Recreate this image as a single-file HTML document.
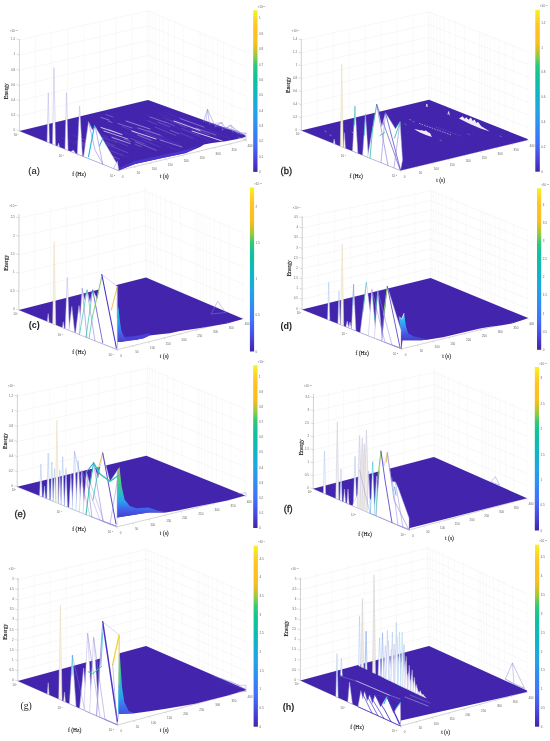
<!DOCTYPE html>
<html lang="en">
<head>
<meta charset="utf-8">
<title>Energy spectra (a)-(h)</title>
<style>
html,body{margin:0;padding:0;background:#fff;}
body{width:550px;height:741px;overflow:hidden;font-family:"Liberation Sans",sans-serif;}
svg{display:block;filter:blur(0.45px);}
.tk{font-family:"Liberation Sans",sans-serif;font-size:3px;fill:#666;}
.ax{font-family:"Liberation Serif",serif;font-size:5.6px;fill:#222;stroke:#222;stroke-width:0.12px;}
.pl{font-family:"Liberation Sans",sans-serif;font-size:9.4px;fill:#222;}
.lr{stroke:#222;stroke-width:0.1px;}
.lm{stroke:#222;stroke-width:0.3px;}
.lb{font-weight:bold;font-size:9px;}
.ls{font-family:"Liberation Serif",serif;font-size:9.8px;}
</style>
</head>
<body>
<svg width="550" height="741" viewBox="0 0 550 741">
<defs>
<linearGradient id="par" x1="0" y1="1" x2="0" y2="0">
<stop offset="0" stop-color="#3e26a8"/>
<stop offset="0.045" stop-color="#4536c8"/>
<stop offset="0.088" stop-color="#4848e0"/>
<stop offset="0.135" stop-color="#465cf2"/>
<stop offset="0.183" stop-color="#4270fc"/>
<stop offset="0.278" stop-color="#308cf4"/>
<stop offset="0.373" stop-color="#22a4e4"/>
<stop offset="0.469" stop-color="#10b4c8"/>
<stop offset="0.569" stop-color="#10c0a0"/>
<stop offset="0.61" stop-color="#14c496"/>
<stop offset="0.664" stop-color="#34c878"/>
<stop offset="0.713" stop-color="#90cc40"/>
<stop offset="0.759" stop-color="#d8c028"/>
<stop offset="0.797" stop-color="#f8c020"/>
<stop offset="0.854" stop-color="#ffc020"/>
<stop offset="0.9" stop-color="#ffc428"/>
<stop offset="0.944" stop-color="#fcd428"/>
<stop offset="0.975" stop-color="#f8e820"/>
<stop offset="1" stop-color="#f5f318"/>
</linearGradient>
<linearGradient id="wc" gradientUnits="userSpaceOnUse" x1="0" y1="306" x2="0" y2="342"><stop offset="0" stop-color="#30c4d8"/><stop offset="0.4" stop-color="#27a8e8"/><stop offset="0.7" stop-color="#3b6ff2"/><stop offset="0.88" stop-color="#4a4fde"/><stop offset="1" stop-color="#4340c8"/></linearGradient>
<linearGradient id="wd" gradientUnits="userSpaceOnUse" x1="0" y1="313.3" x2="0" y2="340.2"><stop offset="0" stop-color="#8fe4f6"/><stop offset="0.22" stop-color="#2fc0ee"/><stop offset="0.5" stop-color="#3a8ff2"/><stop offset="0.75" stop-color="#4559e6"/><stop offset="1" stop-color="#4340c8"/></linearGradient>
<linearGradient id="we" gradientUnits="userSpaceOnUse" x1="0" y1="467.5" x2="0" y2="517.6"><stop offset="0" stop-color="#c6d83a"/><stop offset="0.12" stop-color="#7fcf5a"/><stop offset="0.35" stop-color="#3fc98f"/><stop offset="0.55" stop-color="#2ab8d0"/><stop offset="0.68" stop-color="#2aa0ea"/><stop offset="0.8" stop-color="#3f6cf0"/><stop offset="0.9" stop-color="#4553de"/><stop offset="1" stop-color="#4340c8"/></linearGradient>
<linearGradient id="wg" gradientUnits="userSpaceOnUse" x1="0" y1="654.7" x2="0" y2="714"><stop offset="0" stop-color="#6fcf68"/><stop offset="0.25" stop-color="#3fc98f"/><stop offset="0.5" stop-color="#2ab8d0"/><stop offset="0.72" stop-color="#2aa0ea"/><stop offset="0.88" stop-color="#3f6cf0"/><stop offset="1" stop-color="#4553de"/></linearGradient>
</defs>
<rect width="550" height="741" fill="#fff"/>
<g id="pa">
<path d="M19.4 131L19.4 39M35.5 127.1L35.5 35.4M51.5 123.2L51.5 31.8M67.6 119.4L67.6 28.1M83.7 115.5L83.7 24.5M99.8 111.6L99.8 20.9M115.8 107.8L115.8 17.2M131.9 103.9L131.9 13.6M148 100L148 10M150.4 101L150.4 11M153 102L153 12.1M155.9 103.2L155.9 13.3M159.4 104.6L159.4 14.7M163.4 106.3L163.4 16.4M168.3 108.3L168.3 18.5M174.6 110.8L174.6 21.1M183.3 114.4L183.3 24.8M198.2 120.5L198.2 31M200.4 121.4L200.4 31.9M202.9 122.4L202.9 33M205.8 123.6L205.8 34.2M209 124.9L209 35.5M212.8 126.5L212.8 37.1M217.5 128.4L217.5 39.1M223.5 130.8L223.5 41.6M231.9 134.2L231.9 45.1M246 140L246 51M148 100L148 10" fill="none" stroke="#f4f4f4" stroke-width="0.5"/>
<path d="M19.4 131L148 100M19.4 115.8L148 85.2M19.4 100.6L148 70.3M19.4 85.5L148 55.5M19.4 70.3L148 40.6M19.4 55.1L148 25.8M19.4 39.9L148 10.9M148 100L246 140M148 85.2L246 125.3M148 70.3L246 110.6M148 55.5L246 95.9M148 40.6L246 81.3M148 25.8L246 66.6M148 10.9L246 51.9" fill="none" stroke="#efefef" stroke-width="0.5"/>
<path d="M19.4 39L19.4 131L118.5 170.5L246 140" fill="none" stroke="#ababab" stroke-width="0.5"/>
<polygon points="19.4,131 148,100 245,135 245.5,137 235,139.5 224,141.5 212,143 204,144.5 200,147 186,153 160,158.5 135,164 118.5,170.5" fill="#4324ad"/>
<polyline points="93.7,134.5 109.5,140.9" fill="none" stroke="#fff" stroke-width="0.3" stroke-linejoin="round" stroke-linecap="round" opacity="0.25"/>
<polyline points="94.8,132 108.3,137.4" fill="none" stroke="#fff" stroke-width="0.3" stroke-linejoin="round" stroke-linecap="round" opacity="0.25"/>
<polyline points="102.7,130.4 109.2,133" fill="none" stroke="#fff" stroke-width="0.4" stroke-linejoin="round" stroke-linecap="round" opacity="0.25"/>
<polyline points="148.1,120.8 156.8,124.3" fill="none" stroke="#fff" stroke-width="0.5" stroke-linejoin="round" stroke-linecap="round" opacity="0.25"/>
<polyline points="130.8,131.5 152.1,140.1" fill="none" stroke="#fff" stroke-width="0.3" stroke-linejoin="round" stroke-linecap="round" opacity="0.35"/>
<polyline points="89.6,135.3 96.6,138.1" fill="none" stroke="#fff" stroke-width="0.4" stroke-linejoin="round" stroke-linecap="round" opacity="0.35"/>
<polyline points="85.1,146.7 93.2,149.9" fill="none" stroke="#fff" stroke-width="0.3" stroke-linejoin="round" stroke-linecap="round" opacity="0.25"/>
<polyline points="137.7,135.2 151,140.5" fill="none" stroke="#fff" stroke-width="0.5" stroke-linejoin="round" stroke-linecap="round" opacity="0.55"/>
<polyline points="155.4,127.2 175.8,135.5" fill="none" stroke="#fff" stroke-width="0.4" stroke-linejoin="round" stroke-linecap="round" opacity="0.45"/>
<polyline points="86.4,136.9 104.5,144.2" fill="none" stroke="#fff" stroke-width="0.3" stroke-linejoin="round" stroke-linecap="round" opacity="0.45"/>
<polyline points="143,140.1 160.2,147" fill="none" stroke="#fff" stroke-width="0.4" stroke-linejoin="round" stroke-linecap="round" opacity="0.25"/>
<polyline points="81,144 98.7,151.1" fill="none" stroke="#fff" stroke-width="0.3" stroke-linejoin="round" stroke-linecap="round" opacity="0.55"/>
<polyline points="134.9,144.1 141.1,146.7" fill="none" stroke="#fff" stroke-width="0.5" stroke-linejoin="round" stroke-linecap="round" opacity="0.45"/>
<polyline points="102.9,137.1 116.2,142.4" fill="none" stroke="#fff" stroke-width="0.4" stroke-linejoin="round" stroke-linecap="round" opacity="0.25"/>
<polyline points="180.2,132.8 193.1,138.1" fill="none" stroke="#fff" stroke-width="0.5" stroke-linejoin="round" stroke-linecap="round" opacity="0.25"/>
<polyline points="85.4,149.8 101.2,156.1" fill="none" stroke="#fff" stroke-width="0.5" stroke-linejoin="round" stroke-linecap="round" opacity="0.55"/>
<polyline points="98.2,139.1 114.3,145.6" fill="none" stroke="#fff" stroke-width="0.3" stroke-linejoin="round" stroke-linecap="round" opacity="0.55"/>
<polyline points="114.4,140.6 127.6,145.9" fill="none" stroke="#fff" stroke-width="0.3" stroke-linejoin="round" stroke-linecap="round" opacity="0.45"/>
<polyline points="75.9,141.1 87.4,145.7" fill="none" stroke="#fff" stroke-width="0.4" stroke-linejoin="round" stroke-linecap="round" opacity="0.25"/>
<polyline points="85.7,142.5 95.3,146.3" fill="none" stroke="#fff" stroke-width="0.3" stroke-linejoin="round" stroke-linecap="round" opacity="0.55"/>
<polyline points="158,122.1 169.8,126.9" fill="none" stroke="#fff" stroke-width="0.4" stroke-linejoin="round" stroke-linecap="round" opacity="0.55"/>
<polyline points="163.6,117.7 171.4,120.9" fill="none" stroke="#fff" stroke-width="0.3" stroke-linejoin="round" stroke-linecap="round" opacity="0.35"/>
<polyline points="84.9,153 92.9,156.2" fill="none" stroke="#fff" stroke-width="0.4" stroke-linejoin="round" stroke-linecap="round" opacity="0.25"/>
<polyline points="88.4,145 103.6,151.1" fill="none" stroke="#fff" stroke-width="0.4" stroke-linejoin="round" stroke-linecap="round" opacity="0.35"/>
<polyline points="147.7,130.3 163,136.5" fill="none" stroke="#fff" stroke-width="0.5" stroke-linejoin="round" stroke-linecap="round" opacity="0.25"/>
<polyline points="135.3,141.9 156.2,150.3" fill="none" stroke="#fff" stroke-width="0.5" stroke-linejoin="round" stroke-linecap="round" opacity="0.55"/>
<polyline points="111,136.2 124,141.4" fill="none" stroke="#fff" stroke-width="0.4" stroke-linejoin="round" stroke-linecap="round" opacity="0.25"/>
<polyline points="110.3,150.6 122.7,155.5" fill="none" stroke="#fff" stroke-width="0.3" stroke-linejoin="round" stroke-linecap="round" opacity="0.45"/>
<polyline points="122.4,126.4 136.8,132.3" fill="none" stroke="#fff" stroke-width="0.5" stroke-linejoin="round" stroke-linecap="round" opacity="0.25"/>
<polyline points="179.9,125 186,127.4" fill="none" stroke="#fff" stroke-width="0.3" stroke-linejoin="round" stroke-linecap="round" opacity="0.55"/>
<polyline points="78.2,140.7 88.9,145" fill="none" stroke="#fff" stroke-width="0.4" stroke-linejoin="round" stroke-linecap="round" opacity="0.55"/>
<polyline points="97.8,150.3 119.4,159" fill="none" stroke="#fff" stroke-width="0.4" stroke-linejoin="round" stroke-linecap="round" opacity="0.55"/>
<polyline points="108.9,129.3 115.5,132" fill="none" stroke="#fff" stroke-width="0.4" stroke-linejoin="round" stroke-linecap="round" opacity="0.45"/>
<polyline points="131,138.6 144.6,144" fill="none" stroke="#fff" stroke-width="0.3" stroke-linejoin="round" stroke-linecap="round" opacity="0.45"/>
<polyline points="88.9,145.1 94.3,147.3" fill="none" stroke="#fff" stroke-width="0.5" stroke-linejoin="round" stroke-linecap="round" opacity="0.45"/>
<polyline points="192.4,128 209,134.7" fill="none" stroke="#fff" stroke-width="0.4" stroke-linejoin="round" stroke-linecap="round" opacity="0.45"/>
<polyline points="165.8,122.1 174.4,125.6" fill="none" stroke="#fff" stroke-width="0.5" stroke-linejoin="round" stroke-linecap="round" opacity="0.45"/>
<polyline points="145.4,133.2 163.6,140.5" fill="none" stroke="#fff" stroke-width="0.3" stroke-linejoin="round" stroke-linecap="round" opacity="0.35"/>
<polyline points="170.2,130.3 178.9,133.8" fill="none" stroke="#fff" stroke-width="0.5" stroke-linejoin="round" stroke-linecap="round" opacity="0.55"/>
<polyline points="92.6,131.8 98,134" fill="none" stroke="#fff" stroke-width="0.4" stroke-linejoin="round" stroke-linecap="round" opacity="0.55"/>
<polyline points="106.9,144.4 127.9,152.8" fill="none" stroke="#fff" stroke-width="0.4" stroke-linejoin="round" stroke-linecap="round" opacity="0.45"/>
<polyline points="171.2,121 179.8,124.5" fill="none" stroke="#fff" stroke-width="0.3" stroke-linejoin="round" stroke-linecap="round" opacity="0.55"/>
<polyline points="81.7,138.7 97.1,144.9" fill="none" stroke="#fff" stroke-width="0.5" stroke-linejoin="round" stroke-linecap="round" opacity="0.25"/>
<polyline points="129.6,138 148,145.3" fill="none" stroke="#fff" stroke-width="0.3" stroke-linejoin="round" stroke-linecap="round" opacity="0.25"/>
<polyline points="181.8,128.5 199.3,135.6" fill="none" stroke="#fff" stroke-width="0.4" stroke-linejoin="round" stroke-linecap="round" opacity="0.35"/>
<polyline points="124,138.9 130.4,141.5" fill="none" stroke="#fff" stroke-width="0.5" stroke-linejoin="round" stroke-linecap="round" opacity="0.55"/>
<polyline points="124.6,132.5 154,144.4" fill="none" stroke="#5a49d6" stroke-width="0.5" stroke-linejoin="round" stroke-linecap="round" opacity="0.5"/>
<polyline points="98.8,143.4 119.5,151.7" fill="none" stroke="#5a49d6" stroke-width="0.5" stroke-linejoin="round" stroke-linecap="round" opacity="0.5"/>
<polyline points="130.3,125.8 181.9,146.7" fill="none" stroke="#5a49d6" stroke-width="0.5" stroke-linejoin="round" stroke-linecap="round" opacity="0.5"/>
<polyline points="136.4,126.9 179.7,144.4" fill="none" stroke="#5a49d6" stroke-width="0.5" stroke-linejoin="round" stroke-linecap="round" opacity="0.5"/>
<polyline points="158.9,113.1 216.9,136.6" fill="none" stroke="#5a49d6" stroke-width="0.5" stroke-linejoin="round" stroke-linecap="round" opacity="0.5"/>
<polyline points="78.1,144.7 121.9,162.2" fill="none" stroke="#5a49d6" stroke-width="0.5" stroke-linejoin="round" stroke-linecap="round" opacity="0.5"/>
<polyline points="85.5,142 116.2,154.3" fill="none" stroke="#5a49d6" stroke-width="0.5" stroke-linejoin="round" stroke-linecap="round" opacity="0.5"/>
<polyline points="165.4,112.2 230.2,138.6" fill="none" stroke="#5a49d6" stroke-width="0.5" stroke-linejoin="round" stroke-linecap="round" opacity="0.5"/>
<polyline points="61.4,137.6 117,159.8" fill="none" stroke="#5a49d6" stroke-width="0.5" stroke-linejoin="round" stroke-linecap="round" opacity="0.5"/>
<polyline points="145,119.7 197.9,141.1" fill="none" stroke="#5a49d6" stroke-width="0.5" stroke-linejoin="round" stroke-linecap="round" opacity="0.5"/>
<polyline points="144.9,114.6 210.4,141.2" fill="none" stroke="#5a49d6" stroke-width="0.5" stroke-linejoin="round" stroke-linecap="round" opacity="0.5"/>
<polyline points="169.5,120.2 219.1,140.3" fill="none" stroke="#5a49d6" stroke-width="0.5" stroke-linejoin="round" stroke-linecap="round" opacity="0.5"/>
<polyline points="132.9,132.1 179.3,150.9" fill="none" stroke="#5a49d6" stroke-width="0.5" stroke-linejoin="round" stroke-linecap="round" opacity="0.5"/>
<polyline points="70.8,134.2 128.4,157.2" fill="none" stroke="#5a49d6" stroke-width="0.5" stroke-linejoin="round" stroke-linecap="round" opacity="0.5"/>
<polygon points="119,168 135,161 160,155.5 186,150 199,145 186,153 160,158.5 135,164 118.5,170.5" fill="#4b36c9"/>
<polyline points="101,117.5 109,120" fill="none" stroke="#fff" stroke-width="0.5" stroke-linejoin="round" stroke-linecap="round" opacity="0.7"/>
<polyline points="106,114.5 113,117" fill="none" stroke="#fff" stroke-width="0.4" stroke-linejoin="round" stroke-linecap="round" opacity="0.6"/>
<polyline points="108,121 112,122.5" fill="none" stroke="#fff" stroke-width="0.5" stroke-linejoin="round" stroke-linecap="round" opacity="0.6"/>
<polyline points="101,127.5 122,134.5" fill="none" stroke="#fff" stroke-width="0.9" stroke-linejoin="round" stroke-linecap="round" opacity="0.85"/>
<polyline points="104,131 128,139" fill="none" stroke="#fff" stroke-width="0.7" stroke-linejoin="round" stroke-linecap="round" opacity="0.8"/>
<polyline points="112,137.5 130,143.5" fill="none" stroke="#fff" stroke-width="0.7" stroke-linejoin="round" stroke-linecap="round" opacity="0.7"/>
<polyline points="118,123.5 132,128" fill="none" stroke="#fff" stroke-width="0.5" stroke-linejoin="round" stroke-linecap="round" opacity="0.6"/>
<polyline points="126,121 150,129" fill="none" stroke="#fff" stroke-width="0.6" stroke-linejoin="round" stroke-linecap="round" opacity="0.7"/>
<polyline points="132,131 156,139" fill="none" stroke="#fff" stroke-width="0.9" stroke-linejoin="round" stroke-linecap="round" opacity="0.8"/>
<polyline points="138,128 160,135" fill="none" stroke="#fff" stroke-width="0.5" stroke-linejoin="round" stroke-linecap="round" opacity="0.6"/>
<polyline points="150,117 166,122.5" fill="none" stroke="#fff" stroke-width="0.5" stroke-linejoin="round" stroke-linecap="round" opacity="0.55"/>
<polyline points="160,140 182,147" fill="none" stroke="#fff" stroke-width="0.6" stroke-linejoin="round" stroke-linecap="round" opacity="0.6"/>
<polyline points="174,121 200,130.5" fill="none" stroke="#fff" stroke-width="0.9" stroke-linejoin="round" stroke-linecap="round" opacity="0.8"/>
<polyline points="180,118.5 204,127" fill="none" stroke="#fff" stroke-width="0.5" stroke-linejoin="round" stroke-linecap="round" opacity="0.6"/>
<polyline points="192,131 222,141" fill="none" stroke="#fff" stroke-width="0.9" stroke-linejoin="round" stroke-linecap="round" opacity="0.8"/>
<polyline points="196,128 216,135" fill="none" stroke="#fff" stroke-width="0.5" stroke-linejoin="round" stroke-linecap="round" opacity="0.55"/>
<polygon points="47.1,142.1 48.3,92.7 49.4,143" fill="#fff" stroke="#b9b3e3" stroke-width="0.5" stroke-linejoin="round"/>
<polygon points="52.5,144.2 54,67.5 55.5,145.4" fill="#fff" stroke="#b9b3e3" stroke-width="0.5" stroke-linejoin="round"/>
<polygon points="57.6,146.2 58.5,143 59.4,147" fill="#fff" stroke="#b9b3e3" stroke-width="0.5" stroke-linejoin="round"/>
<polygon points="65,149.2 66.5,92.7 68,150.4" fill="#fff" stroke="#b9b3e3" stroke-width="0.5" stroke-linejoin="round"/>
<polygon points="71,151.6 73.3,150.2 75.6,153.4" fill="#fff" stroke="#b9b3e3" stroke-width="0.5" stroke-linejoin="round"/>
<polygon points="77.3,154.1 79.6,106 82.4,156.1" fill="#fff" stroke="#b9b3e3" stroke-width="0.5" stroke-linejoin="round"/>
<polygon points="83.6,156.6 88.5,121.8 92.4,130 95.3,126.7 118,165.5 118.5,170.5" fill="#fff" stroke="#b9b3e3" stroke-width="0.5" stroke-linejoin="round"/>
<polyline points="88.5,121.8 95,150 103,164.3" fill="none" stroke="#8f86dc" stroke-width="0.6" stroke-linejoin="round" stroke-linecap="round"/>
<polyline points="95.3,126.7 102.7,164.2" fill="none" stroke="#8f86dc" stroke-width="0.6" stroke-linejoin="round" stroke-linecap="round"/>
<polyline points="94.5,125.6 88.5,156.7" fill="none" stroke="#22b4e6" stroke-width="1.1" stroke-linejoin="round" stroke-linecap="round"/>
<polyline points="102.7,138.7 99.5,145.8" fill="none" stroke="#22b4e6" stroke-width="1.0" stroke-linejoin="round" stroke-linecap="round"/>
<polygon points="113.5,168.5 117.5,161 118.5,170.5" fill="#fff" stroke="#8f86dc" stroke-width="0.5" stroke-linejoin="round"/>
<polyline points="203.5,121.5 207.5,109.5 209.5,124" fill="none" stroke="#8f86dc" stroke-width="0.5" stroke-linejoin="round" stroke-linecap="round"/>
<polyline points="207.5,109.5 206,122.5" fill="none" stroke="#8f86dc" stroke-width="0.4" stroke-linejoin="round" stroke-linecap="round"/>
<polyline points="207.5,109.5 215,126 221.8,122.5 226,129 230.7,125.2 242,134.5" fill="none" stroke="#8f86dc" stroke-width="0.5" stroke-linejoin="round" stroke-linecap="round"/>
<polyline points="215,127 221.8,122.5 222.5,130" fill="none" stroke="#8f86dc" stroke-width="0.4" stroke-linejoin="round" stroke-linecap="round"/>
<polyline points="209.5,124 221.8,122.5" fill="none" stroke="#8f86dc" stroke-width="0.35" stroke-linejoin="round" stroke-linecap="round"/>
<polyline points="222,130 230.7,125.2 233,132.5" fill="none" stroke="#8f86dc" stroke-width="0.4" stroke-linejoin="round" stroke-linecap="round"/>
<polyline points="230.7,125.2 238,134 246,133.5" fill="none" stroke="#8f86dc" stroke-width="0.4" stroke-linejoin="round" stroke-linecap="round"/>
<polyline points="226,129 238,131 245.5,136" fill="none" stroke="#6a5ad4" stroke-width="0.45" stroke-linejoin="round" stroke-linecap="round"/>
<polyline points="215,126.5 228,128 240,133" fill="none" stroke="#6a5ad4" stroke-width="0.45" stroke-linejoin="round" stroke-linecap="round"/>
<polyline points="236,132 246,133 246,140 238,137" fill="none" stroke="#8f86dc" stroke-width="0.4" stroke-linejoin="round" stroke-linecap="round"/>
<text x="15.2" y="131.2" class="tk" text-anchor="end">0</text>
<path d="M19.4 131l-3 -1.1" stroke="#ababab" stroke-width="0.4"/>
<text x="15.2" y="116" class="tk" text-anchor="end">0.2</text>
<path d="M19.4 115.8l-3 -1.1" stroke="#ababab" stroke-width="0.4"/>
<text x="15.2" y="100.8" class="tk" text-anchor="end">0.4</text>
<path d="M19.4 100.6l-3 -1.1" stroke="#ababab" stroke-width="0.4"/>
<text x="15.2" y="85.7" class="tk" text-anchor="end">0.6</text>
<path d="M19.4 85.5l-3 -1.1" stroke="#ababab" stroke-width="0.4"/>
<text x="15.2" y="70.5" class="tk" text-anchor="end">0.8</text>
<path d="M19.4 70.3l-3 -1.1" stroke="#ababab" stroke-width="0.4"/>
<text x="15.2" y="55.3" class="tk" text-anchor="end">1</text>
<path d="M19.4 55.1l-3 -1.1" stroke="#ababab" stroke-width="0.4"/>
<text x="15.2" y="40.1" class="tk" text-anchor="end">1.2</text>
<path d="M19.4 39.9l-3 -1.1" stroke="#ababab" stroke-width="0.4"/>
<text x="9.7" y="31.5" class="tk">×10<tspan dy="-1" font-size="2">-11</tspan></text>
<text x="122.5" y="177.7" class="tk" text-anchor="middle">0</text>
<path d="M118.5 170.5l0.8 1.4" stroke="#ababab" stroke-width="0.4"/>
<text x="138.4" y="173.9" class="tk" text-anchor="middle">50</text>
<path d="M134.4 166.7l0.8 1.4" stroke="#ababab" stroke-width="0.4"/>
<text x="154.4" y="170.1" class="tk" text-anchor="middle">100</text>
<path d="M150.4 162.9l0.8 1.4" stroke="#ababab" stroke-width="0.4"/>
<text x="170.3" y="166.3" class="tk" text-anchor="middle">150</text>
<path d="M166.3 159.1l0.8 1.4" stroke="#ababab" stroke-width="0.4"/>
<text x="186.2" y="162.4" class="tk" text-anchor="middle">200</text>
<path d="M182.2 155.2l0.8 1.4" stroke="#ababab" stroke-width="0.4"/>
<text x="202.2" y="158.6" class="tk" text-anchor="middle">250</text>
<path d="M198.2 151.4l0.8 1.4" stroke="#ababab" stroke-width="0.4"/>
<text x="218.1" y="154.8" class="tk" text-anchor="middle">300</text>
<path d="M214.1 147.6l0.8 1.4" stroke="#ababab" stroke-width="0.4"/>
<text x="234.1" y="151" class="tk" text-anchor="middle">350</text>
<path d="M230.1 143.8l0.8 1.4" stroke="#ababab" stroke-width="0.4"/>
<text x="250" y="147.2" class="tk" text-anchor="middle">400</text>
<path d="M246 140l0.8 1.4" stroke="#ababab" stroke-width="0.4"/>
<text x="18.4" y="135.5" class="tk" text-anchor="end">10<tspan dy="-1" font-size="2">0</tspan></text>
<text x="63.9" y="157" class="tk" text-anchor="end">10<tspan dy="-1" font-size="2">-1</tspan></text>
<text x="115" y="176.5" class="tk" text-anchor="end">10<tspan dy="-1" font-size="2">-2</tspan></text>
<text x="79" y="175.5" class="ax" text-anchor="middle">f (Hz)</text>
<text x="164.3" y="178" class="ax" text-anchor="middle">t (s)</text>
<text transform="translate(7.7 91.2) rotate(-90)" class="ax" text-anchor="middle">Energy</text>
<text x="34.1" y="173.9" class="pl lr" text-anchor="middle">(a)</text>
<rect x="253.2" y="10.2" width="4.3" height="161.7" fill="url(#par)"/>
<text x="259" y="172.9" class="tk">0</text>
<text x="259" y="157.6" class="tk">0.1</text>
<text x="259" y="142.2" class="tk">0.2</text>
<text x="259" y="126.9" class="tk">0.3</text>
<text x="259" y="111.5" class="tk">0.4</text>
<text x="259" y="96.2" class="tk">0.5</text>
<text x="259" y="80.8" class="tk">0.6</text>
<text x="259" y="65.5" class="tk">0.7</text>
<text x="259" y="50.1" class="tk">0.8</text>
<text x="259" y="34.8" class="tk">0.9</text>
<text x="259" y="19.4" class="tk">1</text>
<text x="257.5" y="7.7" class="tk">×10<tspan dy="-1" font-size="2">-11</tspan></text>
</g>
<g id="pb">
<path d="M301.4 130.5L301.3 39M317.3 126.7L317.2 35.5M333.3 122.9L333.1 32M349.2 119.1L349 28.5M365.2 115.2L364.9 25M381.1 111.4L380.8 21.5M397.1 107.6L396.7 18M413.1 103.8L412.6 14.5M429 100L428.5 11M431.4 101L430.9 12M434 102L433.6 13M437 103.2L436.6 14.2M440.5 104.6L440 15.6M444.5 106.3L444.1 17.3M449.5 108.3L449.1 19.3M455.8 110.8L455.5 21.8M464.7 114.4L464.4 25.4M479.7 120.5L479.5 31.5M482 121.4L481.7 32.4M484.5 122.4L484.3 33.4M487.3 123.6L487.1 34.6M490.6 124.9L490.4 35.9M494.5 126.5L494.3 37.5M499.2 128.4L499.1 39.4M505.2 130.8L505.1 41.8M513.7 134.2L513.6 45.2M528 140L528 51M429 100L428.5 11" fill="none" stroke="#f4f4f4" stroke-width="0.5"/>
<path d="M301.4 130.5L429 100M301.4 117.6L428.9 87.4M301.4 104.6L428.9 74.8M301.4 91.7L428.8 62.2M301.3 78.7L428.7 49.7M301.3 65.8L428.6 37.1M301.3 52.9L428.6 24.5M301.3 39.9L428.5 11.9M429 100L528 140M428.9 87.4L528 127.4M428.9 74.8L528 114.8M428.8 62.2L528 102.2M428.7 49.7L528 89.7M428.6 37.1L528 77.1M428.6 24.5L528 64.5M428.5 11.9L528 51.9" fill="none" stroke="#efefef" stroke-width="0.5"/>
<path d="M301.3 39L301.4 130.5L400.5 170.5L528 140" fill="none" stroke="#ababab" stroke-width="0.5"/>
<polygon points="301.4,130.5 429,99.8 527.6,139 527.6,140 400.5,170.5" fill="#4324ad"/>
<polyline points="419,123.4 452,135.2" fill="none" stroke="#fff" stroke-width="0.6" stroke-dasharray="1.6 1.1" opacity="0.8"/>
<polyline points="436,127 462,136.5" fill="none" stroke="#fff" stroke-width="0.4" stroke-dasharray="1 1.5" opacity="0.55"/>
<polygon points="414.2,129.3 417,129.6 419.5,130.2 422,130.2 424,131 426,130.5 428.5,132.5 430,133 431.9,137.1 426,135 420,132.5" fill="#fff" opacity="0.92"/>
<polyline points="426.4,106.3 426.8,104 427.3,106.6" fill="none" stroke="#fff" stroke-width="0.8" stroke-linejoin="round" stroke-linecap="round" opacity="0.9"/>
<polyline points="448,114.2 448.6,111.6 449.3,114.8" fill="none" stroke="#fff" stroke-width="0.8" stroke-linejoin="round" stroke-linecap="round" opacity="0.9"/>
<polygon points="459,118.6 462.6,116.2 464.5,118.8 466.2,117.2 468.5,119.8 470.9,117.4 472.8,121 474.5,119.6 476.5,123 478,121.8 481,126 489.8,131.6 480,128.3 470,124" fill="#fff" opacity="0.92"/>
<polyline points="380,128 381,129" fill="none" stroke="#fff" stroke-width="0.6" stroke-linejoin="round" stroke-linecap="round" opacity="0.7"/>
<polyline points="352,132 353,133" fill="none" stroke="#fff" stroke-width="0.6" stroke-linejoin="round" stroke-linecap="round" opacity="0.7"/>
<polyline points="330,135 331,135.5" fill="none" stroke="#fff" stroke-width="0.6" stroke-linejoin="round" stroke-linecap="round" opacity="0.7"/>
<polyline points="325,131 326,131.5" fill="none" stroke="#fff" stroke-width="0.6" stroke-linejoin="round" stroke-linecap="round" opacity="0.7"/>
<polyline points="409.5,119.5 411,120" fill="none" stroke="#fff" stroke-width="0.5" stroke-linejoin="round" stroke-linecap="round" opacity="0.6"/>
<polyline points="413,121.5 414.2,122" fill="none" stroke="#fff" stroke-width="0.5" stroke-linejoin="round" stroke-linecap="round" opacity="0.6"/>
<polyline points="405,124 406,124.5" fill="none" stroke="#fff" stroke-width="0.5" stroke-linejoin="round" stroke-linecap="round" opacity="0.6"/>
<polyline points="440,140 441.5,140.6" fill="none" stroke="#fff" stroke-width="0.5" stroke-linejoin="round" stroke-linecap="round" opacity="0.5"/>
<polyline points="468,134 469.5,134.6" fill="none" stroke="#fff" stroke-width="0.5" stroke-linejoin="round" stroke-linecap="round" opacity="0.5"/>
<polyline points="500,136 501.5,136.6" fill="none" stroke="#fff" stroke-width="0.5" stroke-linejoin="round" stroke-linecap="round" opacity="0.5"/>
<polygon points="333.3,143.4 334.2,139 335.1,144.1" fill="#fff" stroke="#b9b3e3" stroke-width="0.5" stroke-linejoin="round"/>
<polygon points="340.3,146.2 341.8,64 343.3,147.4" fill="#f6f3e4" stroke="#e4dbb6" stroke-width="0.5" stroke-linejoin="round"/>
<polygon points="343.6,147.5 344.5,132.7 345.4,148.3" fill="#fff" stroke="#b9b3e3" stroke-width="0.5" stroke-linejoin="round"/>
<polygon points="352.5,151.1 355,106.4 357.8,153.2" fill="#fff" stroke="#b9b3e3" stroke-width="0.5" stroke-linejoin="round"/>
<polygon points="362.6,155.2 365.5,114.5 368.4,157.5" fill="#fff" stroke="#b9b3e3" stroke-width="0.5" stroke-linejoin="round"/>
<polygon points="367.6,157.2 376.7,104.5 381.8,126.4 385.5,112.7 395.5,129 400,121.8 402.5,160 400.5,170.5" fill="#fff" stroke="#b9b3e3" stroke-width="0.5" stroke-linejoin="round"/>
<polyline points="376.7,104.5 372.5,130 370,158.2" fill="none" stroke="#2ec4a8" stroke-width="0.8" stroke-linejoin="round" stroke-linecap="round"/>
<polyline points="376.7,104.5 388,165.5" fill="none" stroke="#8f86dc" stroke-width="0.7" stroke-linejoin="round" stroke-linecap="round"/>
<polyline points="376.7,104.5 400,169.5" fill="none" stroke="#4a35c4" stroke-width="0.6" stroke-linejoin="round" stroke-linecap="round"/>
<polyline points="385.5,112.7 381,162.6" fill="none" stroke="#8f86dc" stroke-width="0.6" stroke-linejoin="round" stroke-linecap="round"/>
<polyline points="385.5,112.7 400.5,170" fill="none" stroke="#4a35c4" stroke-width="0.7" stroke-linejoin="round" stroke-linecap="round"/>
<polyline points="400,121.8 394,167.9" fill="none" stroke="#8f86dc" stroke-width="0.6" stroke-linejoin="round" stroke-linecap="round"/>
<polyline points="400,122.5 394.5,138" fill="none" stroke="#2ec4a8" stroke-width="0.9" stroke-linejoin="round" stroke-linecap="round"/>
<polyline points="384.5,132.5 380,135.5" fill="none" stroke="#2ec4a8" stroke-width="0.9" stroke-linejoin="round" stroke-linecap="round"/>
<polyline points="355,106.4 354.5,125" fill="none" stroke="#2ec4a8" stroke-width="0.7" stroke-linejoin="round" stroke-linecap="round"/>
<polyline points="365.5,114.5 364.5,135" fill="none" stroke="#22b4e6" stroke-width="0.6" stroke-linejoin="round" stroke-linecap="round"/>
<text x="297.2" y="130.7" class="tk" text-anchor="end">0</text>
<path d="M301.4 130.5l-3 -1.1" stroke="#ababab" stroke-width="0.4"/>
<text x="297.2" y="117.8" class="tk" text-anchor="end">0.2</text>
<path d="M301.4 117.6l-3 -1.1" stroke="#ababab" stroke-width="0.4"/>
<text x="297.2" y="104.8" class="tk" text-anchor="end">0.4</text>
<path d="M301.4 104.6l-3 -1.1" stroke="#ababab" stroke-width="0.4"/>
<text x="297.2" y="91.9" class="tk" text-anchor="end">0.6</text>
<path d="M301.4 91.7l-3 -1.1" stroke="#ababab" stroke-width="0.4"/>
<text x="297.1" y="78.9" class="tk" text-anchor="end">0.8</text>
<path d="M301.3 78.7l-3 -1.1" stroke="#ababab" stroke-width="0.4"/>
<text x="297.1" y="66" class="tk" text-anchor="end">1</text>
<path d="M301.3 65.8l-3 -1.1" stroke="#ababab" stroke-width="0.4"/>
<text x="297.1" y="53.1" class="tk" text-anchor="end">1.2</text>
<path d="M301.3 52.9l-3 -1.1" stroke="#ababab" stroke-width="0.4"/>
<text x="297.1" y="40.1" class="tk" text-anchor="end">1.4</text>
<path d="M301.3 39.9l-3 -1.1" stroke="#ababab" stroke-width="0.4"/>
<text x="291.6" y="31.5" class="tk">×10<tspan dy="-1" font-size="2">-11</tspan></text>
<text x="404.5" y="177.7" class="tk" text-anchor="middle">0</text>
<path d="M400.5 170.5l0.8 1.4" stroke="#ababab" stroke-width="0.4"/>
<text x="420.4" y="173.9" class="tk" text-anchor="middle">50</text>
<path d="M416.4 166.7l0.8 1.4" stroke="#ababab" stroke-width="0.4"/>
<text x="436.4" y="170.1" class="tk" text-anchor="middle">100</text>
<path d="M432.4 162.9l0.8 1.4" stroke="#ababab" stroke-width="0.4"/>
<text x="452.3" y="166.3" class="tk" text-anchor="middle">150</text>
<path d="M448.3 159.1l0.8 1.4" stroke="#ababab" stroke-width="0.4"/>
<text x="468.2" y="162.4" class="tk" text-anchor="middle">200</text>
<path d="M464.2 155.2l0.8 1.4" stroke="#ababab" stroke-width="0.4"/>
<text x="484.2" y="158.6" class="tk" text-anchor="middle">250</text>
<path d="M480.2 151.4l0.8 1.4" stroke="#ababab" stroke-width="0.4"/>
<text x="500.1" y="154.8" class="tk" text-anchor="middle">300</text>
<path d="M496.1 147.6l0.8 1.4" stroke="#ababab" stroke-width="0.4"/>
<text x="516.1" y="151" class="tk" text-anchor="middle">350</text>
<path d="M512.1 143.8l0.8 1.4" stroke="#ababab" stroke-width="0.4"/>
<text x="532" y="147.2" class="tk" text-anchor="middle">400</text>
<path d="M528 140l0.8 1.4" stroke="#ababab" stroke-width="0.4"/>
<text x="300.4" y="135" class="tk" text-anchor="end">10<tspan dy="-1" font-size="2">0</tspan></text>
<text x="345.9" y="156.7" class="tk" text-anchor="end">10<tspan dy="-1" font-size="2">-1</tspan></text>
<text x="397" y="176.5" class="tk" text-anchor="end">10<tspan dy="-1" font-size="2">-2</tspan></text>
<text x="356.2" y="178.2" class="ax" text-anchor="middle">f (Hz)</text>
<text x="440.7" y="181.7" class="ax" text-anchor="middle">t (s)</text>
<text transform="translate(289.6 85) rotate(-90)" class="ax" text-anchor="middle">Energy</text>
<text x="286.3" y="173.8" class="pl lm" text-anchor="middle">(b)</text>
<rect x="535.3" y="9.8" width="4.5" height="161.9" fill="url(#par)"/>
<text x="541.3" y="172.7" class="tk">0</text>
<text x="541.3" y="147.9" class="tk">0.2</text>
<text x="541.3" y="123.1" class="tk">0.4</text>
<text x="541.3" y="98.2" class="tk">0.6</text>
<text x="541.3" y="73.4" class="tk">0.8</text>
<text x="541.3" y="48.6" class="tk">1</text>
<text x="541.3" y="23.8" class="tk">1.2</text>
<text x="539.8" y="7.3" class="tk">×10<tspan dy="-1" font-size="2">-11</tspan></text>
</g>
<g id="pc">
<path d="M18.8 310L19 214M34.7 305.9L34.8 210.7M50.6 301.9L50.5 207.4M66.5 297.8L66.2 204.1M82.4 293.8L82 200.8M98.3 289.7L97.8 197.4M114.2 285.6L113.5 194.1M130.1 281.6L129.2 190.8M146 277.5L145 187.5M148.3 278.5L147.4 188.5M150.9 279.6L150 189.6M153.9 280.8L152.9 190.9M157.2 282.2L156.4 192.3M161.2 283.9L160.4 194M166.1 285.9L165.3 196.1M172.3 288.5L171.6 198.7M181 292.1L180.3 202.5M195.7 298.2L195.2 208.8M197.9 299.2L197.4 209.7M200.4 300.2L199.9 210.8M203.2 301.4L202.8 212M206.4 302.7L206 213.3M210.2 304.3L209.8 215M214.8 306.2L214.5 216.9M220.7 308.7L220.5 219.5M229 312.2L228.9 223M243 318L243 229M146 277.5L145 187.5" fill="none" stroke="#f4f4f4" stroke-width="0.5"/>
<path d="M18.8 310L146 277.5M18.8 291.6L145.8 260.3M18.9 273.2L145.6 243M18.9 254.8L145.4 225.8M19 236.4L145.2 208.5M19 218L145 191.3M146 277.5L243 318M145.8 260.3L243 300.9M145.6 243L243 283.9M145.4 225.8L243 266.8M145.2 208.5L243 249.8M145 191.3L243 232.7" fill="none" stroke="#efefef" stroke-width="0.5"/>
<path d="M19 214L18.8 310L117 349.8L243 318" fill="none" stroke="#ababab" stroke-width="0.5"/>
<polygon points="18.8,310 146,277.5 242.3,318.5 242.3,319.3 237.7,320.4 227,323.5 205,327.2 195.5,328.8 180,331 169.8,333.2 158,334.6 149.5,335.4 143.6,338.3 136.4,339.7 117.5,342 117,349.5" fill="#4324ad"/>
<polygon points="123,337 136,336 149.5,333 149.5,335.4 143.6,338.3 136.4,339.7 117.5,342 117.5,338" fill="#4a3fd6"/>
<polygon points="117.5,306 118.6,308.5 120,322 121.5,331 125,338.5 128,341 117.5,342" fill="url(#wc)"/>
<polygon points="211,314 217.7,301.4 225.7,312.5" fill="none" stroke="#8f86dc" stroke-width="0.45" stroke-linejoin="round"/>
<polygon points="47.3,321.5 48.2,313.6 49.1,322.3" fill="#fff" stroke="#b9b3e3" stroke-width="0.5" stroke-linejoin="round"/>
<polygon points="52.7,323.7 54.2,241.5 55.7,325" fill="#f6f3e4" stroke="#e4dbb6" stroke-width="0.5" stroke-linejoin="round"/>
<polygon points="62.4,327.7 63.3,321.8 64.2,328.4" fill="#fff" stroke="#b9b3e3" stroke-width="0.5" stroke-linejoin="round"/>
<polygon points="65.2,328.8 67.3,277.3 69.4,330.5" fill="#fff" stroke="#b9b3e3" stroke-width="0.5" stroke-linejoin="round"/>
<polygon points="68.9,330.3 71.8,306.4 74.7,332.6" fill="#fff" stroke="#b9b3e3" stroke-width="0.5" stroke-linejoin="round"/>
<polygon points="75.5,333 79,305.5 82.5,335.8" fill="#fff" stroke="#b9b3e3" stroke-width="0.5" stroke-linejoin="round"/>
<polygon points="79,334.4 82.2,288.2 84.6,300 87,290 90,302 92.7,290 97.3,299 101.8,274.5 117.3,286.4 117.3,349.5" fill="#fff" stroke="#b9b3e3" stroke-width="0.5" stroke-linejoin="round"/>
<polyline points="82.2,288.2 87,337.6" fill="none" stroke="#8f86dc" stroke-width="0.6" stroke-linejoin="round" stroke-linecap="round"/>
<polyline points="87,290 79.5,334.6" fill="none" stroke="#2ec4a8" stroke-width="0.7" stroke-linejoin="round" stroke-linecap="round"/>
<polyline points="87,290 95,340.9" fill="none" stroke="#8f86dc" stroke-width="0.6" stroke-linejoin="round" stroke-linecap="round"/>
<polyline points="92.7,290 86,337.2" fill="none" stroke="#2ec4a8" stroke-width="0.7" stroke-linejoin="round" stroke-linecap="round"/>
<polyline points="92.7,290 102.7,342.7" fill="none" stroke="#4a35c4" stroke-width="0.7" stroke-linejoin="round" stroke-linecap="round"/>
<polyline points="101.8,277 92.7,315.5" fill="none" stroke="#7fcf5a" stroke-width="0.9" stroke-linejoin="round" stroke-linecap="round"/>
<polyline points="92.7,315.5 89,338.5" fill="none" stroke="#2ec4a8" stroke-width="0.7" stroke-linejoin="round" stroke-linecap="round"/>
<polyline points="101.8,274.5 116.4,348" fill="none" stroke="#4a35c4" stroke-width="1.1" stroke-linejoin="round" stroke-linecap="round"/>
<polyline points="117.3,286.4 111.3,310" fill="none" stroke="#f2b93b" stroke-width="0.9" stroke-linejoin="round" stroke-linecap="round"/>
<polyline points="117.3,287 117.3,318" fill="none" stroke="#6f8ff5" stroke-width="0.6" stroke-linejoin="round" stroke-linecap="round"/>
<text x="14.6" y="310.2" class="tk" text-anchor="end">0</text>
<path d="M18.8 310l-3 -1.1" stroke="#ababab" stroke-width="0.4"/>
<text x="14.6" y="291.8" class="tk" text-anchor="end">0.5</text>
<path d="M18.8 291.6l-3 -1.1" stroke="#ababab" stroke-width="0.4"/>
<text x="14.7" y="273.4" class="tk" text-anchor="end">1</text>
<path d="M18.9 273.2l-3 -1.1" stroke="#ababab" stroke-width="0.4"/>
<text x="14.7" y="255" class="tk" text-anchor="end">1.5</text>
<path d="M18.9 254.8l-3 -1.1" stroke="#ababab" stroke-width="0.4"/>
<text x="14.8" y="236.6" class="tk" text-anchor="end">2</text>
<path d="M19 236.4l-3 -1.1" stroke="#ababab" stroke-width="0.4"/>
<text x="14.8" y="218.2" class="tk" text-anchor="end">2.5</text>
<path d="M19 218l-3 -1.1" stroke="#ababab" stroke-width="0.4"/>
<text x="9.3" y="206.5" class="tk">×10<tspan dy="-1" font-size="2">-10</tspan></text>
<text x="121" y="357" class="tk" text-anchor="middle">0</text>
<path d="M117 349.8l0.8 1.4" stroke="#ababab" stroke-width="0.4"/>
<text x="136.8" y="353" class="tk" text-anchor="middle">50</text>
<path d="M132.8 345.8l0.8 1.4" stroke="#ababab" stroke-width="0.4"/>
<text x="152.5" y="349.1" class="tk" text-anchor="middle">100</text>
<path d="M148.5 341.9l0.8 1.4" stroke="#ababab" stroke-width="0.4"/>
<text x="168.2" y="345.1" class="tk" text-anchor="middle">150</text>
<path d="M164.2 337.9l0.8 1.4" stroke="#ababab" stroke-width="0.4"/>
<text x="184" y="341.1" class="tk" text-anchor="middle">200</text>
<path d="M180 333.9l0.8 1.4" stroke="#ababab" stroke-width="0.4"/>
<text x="199.8" y="337.1" class="tk" text-anchor="middle">250</text>
<path d="M195.8 329.9l0.8 1.4" stroke="#ababab" stroke-width="0.4"/>
<text x="215.5" y="333.1" class="tk" text-anchor="middle">300</text>
<path d="M211.5 325.9l0.8 1.4" stroke="#ababab" stroke-width="0.4"/>
<text x="231.2" y="329.2" class="tk" text-anchor="middle">350</text>
<path d="M227.2 322l0.8 1.4" stroke="#ababab" stroke-width="0.4"/>
<text x="247" y="325.2" class="tk" text-anchor="middle">400</text>
<path d="M243 318l0.8 1.4" stroke="#ababab" stroke-width="0.4"/>
<text x="17.8" y="314.5" class="tk" text-anchor="end">10<tspan dy="-1" font-size="2">0</tspan></text>
<text x="62.9" y="336.1" class="tk" text-anchor="end">10<tspan dy="-1" font-size="2">-1</tspan></text>
<text x="113.5" y="355.8" class="tk" text-anchor="end">10<tspan dy="-1" font-size="2">-2</tspan></text>
<text x="79.1" y="354.2" class="ax" text-anchor="middle">f (Hz)</text>
<text x="164.3" y="357.5" class="ax" text-anchor="middle">t (s)</text>
<text transform="translate(7.7 262.6) rotate(-90)" class="ax" text-anchor="middle">Energy</text>
<text x="34.2" y="328.4" class="pl lb" text-anchor="middle">(c)</text>
<rect x="249.9" y="187.5" width="4.2" height="164" fill="url(#par)"/>
<text x="255.6" y="352.5" class="tk">0</text>
<text x="255.6" y="316.4" class="tk">0.5</text>
<text x="255.6" y="280.3" class="tk">1</text>
<text x="255.6" y="244.3" class="tk">1.5</text>
<text x="255.6" y="208.2" class="tk">2</text>
<text x="254.1" y="185" class="tk">×10<tspan dy="-1" font-size="2">-10</tspan></text>
</g>
<g id="pd">
<path d="M302.1 309.4L302.3 216M318.2 305.5L318.4 212.6M334.2 301.5L334.5 209.2M350.3 297.6L350.6 205.9M366.4 293.7L366.6 202.5M382.5 289.8L382.7 199.1M398.6 285.9L398.8 195.8M414.6 281.9L414.9 192.4M430.7 278L431 189M433 279L433.3 190M435.6 280L435.9 191M438.6 281.3L438.8 192.2M441.9 282.7L442.2 193.6M445.9 284.3L446.2 195.3M450.8 286.3L451 197.3M457 288.9L457.2 199.8M465.7 292.5L465.9 203.4M480.4 298.6L480.5 209.5M482.6 299.5L482.7 210.4M485.1 300.5L485.2 211.4M487.9 301.7L488 212.6M491.1 303L491.2 213.9M494.9 304.6L495 215.5M499.5 306.5L499.6 217.4M505.4 309L505.5 219.8M513.7 312.4L513.7 223.2M527.7 318.2L527.7 229M430.7 278L431 189" fill="none" stroke="#f4f4f4" stroke-width="0.5"/>
<path d="M302.1 309.4L430.7 278M302.1 299.2L430.7 268.3M302.1 289.1L430.8 258.6M302.2 278.9L430.8 248.9M302.2 268.7L430.8 239.2M302.2 258.5L430.9 229.5M302.2 248.4L430.9 219.9M302.3 238.2L430.9 210.2M302.3 228L431 200.5M302.3 217.9L431 190.8M430.7 278L527.7 318.2M430.7 268.3L527.7 308.5M430.8 258.6L527.7 298.8M430.8 248.9L527.7 289.1M430.8 239.2L527.7 279.3M430.9 229.5L527.7 269.6M430.9 219.9L527.7 259.9M430.9 210.2L527.7 250.2M431 200.5L527.7 240.5M431 190.8L527.7 230.8" fill="none" stroke="#efefef" stroke-width="0.5"/>
<path d="M302.3 216L302.1 309.4L401.5 348.9L527.7 318.2" fill="none" stroke="#ababab" stroke-width="0.5"/>
<polygon points="302.1,309.4 430.7,278 528.2,318.1 522.7,320 512,323.6 502,325.2 490,326.8 480,328.5 465,332 443,337.3 428.6,339.5 421.4,340.2 402.5,340.2 401.5,348.9" fill="#4324ad"/>
<polygon points="398.8,317.6 401.7,319 404,313.3 406,326.4 408.3,333.6 414,336.5 421.4,338 428.6,339.5 421.4,340.2 402.5,340.2" fill="url(#wd)"/>
<polyline points="399.5,317 401.7,319 404,313.6" fill="none" stroke="#e8fbff" stroke-width="0.8" stroke-linejoin="round" stroke-linecap="round"/>
<polygon points="327.6,319.5 328.7,282.4 329.8,320.4" fill="#fff" stroke="#a9c4ee" stroke-width="0.5" stroke-linejoin="round"/>
<polygon points="337.9,323.6 339,291 340.1,324.5" fill="#fff" stroke="#a9c4ee" stroke-width="0.5" stroke-linejoin="round"/>
<polygon points="340.7,324.7 342.2,244 343.7,325.9" fill="#f6f3e4" stroke="#e4dbb6" stroke-width="0.5" stroke-linejoin="round"/>
<polygon points="345.9,326.8 347.3,321 348.7,327.9" fill="#fff" stroke="#b9b3e3" stroke-width="0.5" stroke-linejoin="round"/>
<polygon points="348.6,327.9 350,322 351.4,329" fill="#fff" stroke="#b9b3e3" stroke-width="0.5" stroke-linejoin="round"/>
<polygon points="351.5,329 353.6,284.5 355.9,330.8" fill="#fff" stroke="#b9b3e3" stroke-width="0.5" stroke-linejoin="round"/>
<polygon points="360.2,332.5 366.4,282.4 373.6,337.8" fill="#fff" stroke="#b9b3e3" stroke-width="0.5" stroke-linejoin="round"/>
<polygon points="368.4,335.7 371.8,289.6 376.4,338.9" fill="#fff" stroke="#b9b3e3" stroke-width="0.5" stroke-linejoin="round"/>
<polygon points="374.4,338.1 377.8,291 382.4,341.3" fill="#fff" stroke="#b9b3e3" stroke-width="0.5" stroke-linejoin="round"/>
<polygon points="381.8,341.1 387.3,286.4 396.4,315.5 401,330 401,348.5" fill="#fff" stroke="#b9b3e3" stroke-width="0.5" stroke-linejoin="round"/>
<polyline points="387.3,287 383.5,315" fill="none" stroke="#7fcf5a" stroke-width="0.9" stroke-linejoin="round" stroke-linecap="round"/>
<polyline points="383.5,315 381.8,341.1" fill="none" stroke="#8f86dc" stroke-width="0.5" stroke-linejoin="round" stroke-linecap="round"/>
<polyline points="387.3,286.4 400,347.5" fill="none" stroke="#4a35c4" stroke-width="0.8" stroke-linejoin="round" stroke-linecap="round"/>
<polyline points="371.8,289.6 385,342.3 400.5,348" fill="none" stroke="#8f86dc" stroke-width="0.5" stroke-linejoin="round" stroke-linecap="round"/>
<polyline points="377.8,291 392,345.1 400.5,348" fill="none" stroke="#8f86dc" stroke-width="0.5" stroke-linejoin="round" stroke-linecap="round"/>
<polyline points="377.8,291 374.5,320" fill="none" stroke="#2ec4a8" stroke-width="0.7" stroke-linejoin="round" stroke-linecap="round"/>
<polyline points="366.4,282.4 363,312" fill="none" stroke="#2ec4a8" stroke-width="0.6" stroke-linejoin="round" stroke-linecap="round"/>
<polyline points="353.6,284.5 353,305" fill="none" stroke="#22b4e6" stroke-width="0.6" stroke-linejoin="round" stroke-linecap="round"/>
<text x="297.9" y="309.6" class="tk" text-anchor="end">0</text>
<path d="M302.1 309.4l-3 -1.1" stroke="#ababab" stroke-width="0.4"/>
<text x="297.9" y="299.4" class="tk" text-anchor="end">0.5</text>
<path d="M302.1 299.2l-3 -1.1" stroke="#ababab" stroke-width="0.4"/>
<text x="297.9" y="289.3" class="tk" text-anchor="end">1</text>
<path d="M302.1 289.1l-3 -1.1" stroke="#ababab" stroke-width="0.4"/>
<text x="298" y="279.1" class="tk" text-anchor="end">1.5</text>
<path d="M302.2 278.9l-3 -1.1" stroke="#ababab" stroke-width="0.4"/>
<text x="298" y="268.9" class="tk" text-anchor="end">2</text>
<path d="M302.2 268.7l-3 -1.1" stroke="#ababab" stroke-width="0.4"/>
<text x="298" y="258.7" class="tk" text-anchor="end">2.5</text>
<path d="M302.2 258.5l-3 -1.1" stroke="#ababab" stroke-width="0.4"/>
<text x="298" y="248.6" class="tk" text-anchor="end">3</text>
<path d="M302.2 248.4l-3 -1.1" stroke="#ababab" stroke-width="0.4"/>
<text x="298.1" y="238.4" class="tk" text-anchor="end">3.5</text>
<path d="M302.3 238.2l-3 -1.1" stroke="#ababab" stroke-width="0.4"/>
<text x="298.1" y="228.2" class="tk" text-anchor="end">4</text>
<path d="M302.3 228l-3 -1.1" stroke="#ababab" stroke-width="0.4"/>
<text x="298.1" y="218.1" class="tk" text-anchor="end">4.5</text>
<path d="M302.3 217.9l-3 -1.1" stroke="#ababab" stroke-width="0.4"/>
<text x="292.6" y="208.5" class="tk">×10<tspan dy="-1" font-size="2">-10</tspan></text>
<text x="405.5" y="356.1" class="tk" text-anchor="middle">0</text>
<path d="M401.5 348.9l0.8 1.4" stroke="#ababab" stroke-width="0.4"/>
<text x="421.3" y="352.3" class="tk" text-anchor="middle">50</text>
<path d="M417.3 345.1l0.8 1.4" stroke="#ababab" stroke-width="0.4"/>
<text x="437.1" y="348.4" class="tk" text-anchor="middle">100</text>
<path d="M433.1 341.2l0.8 1.4" stroke="#ababab" stroke-width="0.4"/>
<text x="452.8" y="344.6" class="tk" text-anchor="middle">150</text>
<path d="M448.8 337.4l0.8 1.4" stroke="#ababab" stroke-width="0.4"/>
<text x="468.6" y="340.7" class="tk" text-anchor="middle">200</text>
<path d="M464.6 333.5l0.8 1.4" stroke="#ababab" stroke-width="0.4"/>
<text x="484.4" y="336.9" class="tk" text-anchor="middle">250</text>
<path d="M480.4 329.7l0.8 1.4" stroke="#ababab" stroke-width="0.4"/>
<text x="500.2" y="333.1" class="tk" text-anchor="middle">300</text>
<path d="M496.2 325.9l0.8 1.4" stroke="#ababab" stroke-width="0.4"/>
<text x="515.9" y="329.2" class="tk" text-anchor="middle">350</text>
<path d="M511.9 322l0.8 1.4" stroke="#ababab" stroke-width="0.4"/>
<text x="531.7" y="325.4" class="tk" text-anchor="middle">400</text>
<path d="M527.7 318.2l0.8 1.4" stroke="#ababab" stroke-width="0.4"/>
<text x="301.1" y="313.9" class="tk" text-anchor="end">10<tspan dy="-1" font-size="2">0</tspan></text>
<text x="346.8" y="335.4" class="tk" text-anchor="end">10<tspan dy="-1" font-size="2">-1</tspan></text>
<text x="398" y="354.9" class="tk" text-anchor="end">10<tspan dy="-1" font-size="2">-2</tspan></text>
<text x="362.2" y="354.6" class="ax" text-anchor="middle">f (Hz)</text>
<text x="446.7" y="357.5" class="ax" text-anchor="middle">t (s)</text>
<text transform="translate(290.8 268.3) rotate(-90)" class="ax" text-anchor="middle">Energy</text>
<text x="286.2" y="329.3" class="pl lb" text-anchor="middle">(d)</text>
<rect x="537" y="188.3" width="4.2" height="161.5" fill="url(#par)"/>
<text x="542.7" y="350.8" class="tk">0</text>
<text x="542.7" y="332.6" class="tk">0.5</text>
<text x="542.7" y="314.5" class="tk">1</text>
<text x="542.7" y="296.3" class="tk">1.5</text>
<text x="542.7" y="278.1" class="tk">2</text>
<text x="542.7" y="260" class="tk">2.5</text>
<text x="542.7" y="241.8" class="tk">3</text>
<text x="542.7" y="223.6" class="tk">3.5</text>
<text x="542.7" y="205.5" class="tk">4</text>
<text x="541.2" y="185.8" class="tk">×10<tspan dy="-1" font-size="2">-10</tspan></text>
</g>
<g id="pe">
<path d="M17.2 486.8L17.4 394M33.3 482.9L33.7 390.5M49.5 479L49.9 387M65.6 475.1L66.2 383.5M81.8 471.2L82.4 380M97.9 467.4L98.7 376.5M114 463.5L115 373M130.2 459.6L131.2 369.5M146.3 455.7L147.5 366M148.7 456.7L149.8 367M151.3 457.7L152.4 368.1M154.3 458.9L155.4 369.3M157.8 460.3L158.8 370.7M161.8 462L162.8 372.4M166.8 464L167.6 374.5M173.1 466.5L173.9 377.1M182 470.1L182.6 380.8M197 476.1L197.3 387M199.2 477L199.6 387.9M201.7 478.1L202 389M204.6 479.2L204.8 390.2M207.9 480.5L208.1 391.5M211.7 482.1L211.9 393.1M216.4 484L216.5 395.1M222.5 486.4L222.4 397.6M230.9 489.8L230.8 401.1M245.2 495.6L244.8 407M146.3 455.7L147.5 366" fill="none" stroke="#f4f4f4" stroke-width="0.5"/>
<path d="M17.2 486.8L146.3 455.7M17.2 471.7L146.5 441.1M17.3 456.6L146.7 426.5M17.3 441.6L146.9 412M17.3 426.5L147.1 397.4M17.4 411.4L147.3 382.8M17.4 396.3L147.5 368.2M146.3 455.7L245.2 495.6M146.5 441.1L245.1 481.2M146.7 426.5L245.1 466.8M146.9 412L245 452.4M147.1 397.4L244.9 438M147.3 382.8L244.9 423.6M147.5 368.2L244.8 409.2" fill="none" stroke="#efefef" stroke-width="0.5"/>
<path d="M17.4 394L17.2 486.8L116.5 527L245.2 495.6" fill="none" stroke="#ababab" stroke-width="0.5"/>
<polygon points="17.2,486.8 146.3,455.7 245.2,495.6 227.3,500.5 195.5,506.8 177.7,510.4 166,512.5 148.6,512.5 117,517.6 116.5,526.5" fill="#4324ad"/>
<polygon points="117,470 119.5,467.5 121.7,486.4 124.6,499.5 129.7,506 136.3,508.2 148.6,507.5 157.4,510.4 166,512.5 148.6,512.5 117,517.6" fill="url(#we)"/>
<polyline points="238,494 246,492.5 246,496" fill="none" stroke="#8f86dc" stroke-width="0.4" stroke-linejoin="round" stroke-linecap="round"/>
<polygon points="39.6,495.9 40.9,464 42.2,496.9" fill="#fff" stroke="#a3c0ee" stroke-width="0.5" stroke-linejoin="round"/>
<polygon points="43.5,497.4 44.5,486 45.5,498.3" fill="#fff" stroke="#a3c0ee" stroke-width="0.5" stroke-linejoin="round"/>
<polygon points="46.8,498.8 48.2,453 49.6,499.9" fill="#fff" stroke="#a3c0ee" stroke-width="0.5" stroke-linejoin="round"/>
<polygon points="50.5,500.3 51.8,462 53.1,501.3" fill="#fff" stroke="#a3c0ee" stroke-width="0.5" stroke-linejoin="round"/>
<polygon points="53.2,501.4 54.5,468.6 55.8,502.4" fill="#fff" stroke="#a3c0ee" stroke-width="0.5" stroke-linejoin="round"/>
<polygon points="55.4,502.3 56.9,420 58.4,503.5" fill="#f6f3e4" stroke="#e4dbb6" stroke-width="0.5" stroke-linejoin="round"/>
<polygon points="58.5,503.5 59.8,470 61.1,504.6" fill="#fff" stroke="#a3c0ee" stroke-width="0.5" stroke-linejoin="round"/>
<polygon points="61.1,504.6 62.7,456.8 64.3,505.9" fill="#fff" stroke="#a3c0ee" stroke-width="0.5" stroke-linejoin="round"/>
<polygon points="64.4,505.9 66,468.6 67.6,507.2" fill="#fff" stroke="#a3c0ee" stroke-width="0.5" stroke-linejoin="round"/>
<polygon points="68.9,507.7 70.9,474 72.9,509.3" fill="#fff" stroke="#a3c0ee" stroke-width="0.5" stroke-linejoin="round"/>
<polygon points="72.2,509.1 74.5,451.4 77,511" fill="#fff" stroke="#a3c0ee" stroke-width="0.5" stroke-linejoin="round"/>
<polygon points="75.9,510.6 78.2,460.5 81,512.6" fill="#fff" stroke="#a3c0ee" stroke-width="0.5" stroke-linejoin="round"/>
<polygon points="79.3,511.9 81.8,470.5 84.8,514.2" fill="#fff" stroke="#b9b3e3" stroke-width="0.5" stroke-linejoin="round"/>
<polygon points="83,513.4 86.4,472 90,485 93.6,463 98,478 102.7,453 110,481.4 117,471 117,526.5" fill="#fff" stroke="#b9b3e3" stroke-width="0.5" stroke-linejoin="round"/>
<polyline points="86.4,472 92,517.1" fill="none" stroke="#8f86dc" stroke-width="0.6" stroke-linejoin="round" stroke-linecap="round"/>
<polyline points="93.6,463 89,490 86,514.7" fill="none" stroke="#2ec4a8" stroke-width="1.0" stroke-linejoin="round" stroke-linecap="round"/>
<polyline points="93.6,463 103,521.5" fill="none" stroke="#8f86dc" stroke-width="0.6" stroke-linejoin="round" stroke-linecap="round"/>
<polyline points="102.7,453 98.5,468" fill="none" stroke="#f2b93b" stroke-width="0.9" stroke-linejoin="round" stroke-linecap="round"/>
<polyline points="98.5,468 93,500" fill="none" stroke="#2ec4a8" stroke-width="0.8" stroke-linejoin="round" stroke-linecap="round"/>
<polyline points="102.7,453 116,524" fill="none" stroke="#4a35c4" stroke-width="0.9" stroke-linejoin="round" stroke-linecap="round"/>
<polyline points="93.6,463 100,474 110,481.4 119,475" fill="none" stroke="#34c6b4" stroke-width="1.5" stroke-linejoin="round" stroke-linecap="round"/>
<polyline points="86.4,472 93.6,463" fill="none" stroke="#3a9ad8" stroke-width="1.1" stroke-linejoin="round" stroke-linecap="round"/>
<polyline points="119.5,467.7 110,524.4" fill="none" stroke="#8f86dc" stroke-width="0.5" stroke-linejoin="round" stroke-linecap="round"/>
<polyline points="81.8,470.5 100,520.3 116,526" fill="none" stroke="#8f86dc" stroke-width="0.4" stroke-linejoin="round" stroke-linecap="round"/>
<polyline points="74.5,451.4 90,516.3 116,526" fill="none" stroke="#8f86dc" stroke-width="0.4" stroke-linejoin="round" stroke-linecap="round"/>
<polyline points="86.4,472 104,521.9 116,526" fill="none" stroke="#8f86dc" stroke-width="0.4" stroke-linejoin="round" stroke-linecap="round"/>
<text x="13" y="487" class="tk" text-anchor="end">0</text>
<path d="M17.2 486.8l-3 -1.1" stroke="#ababab" stroke-width="0.4"/>
<text x="13" y="471.9" class="tk" text-anchor="end">0.2</text>
<path d="M17.2 471.7l-3 -1.1" stroke="#ababab" stroke-width="0.4"/>
<text x="13.1" y="456.8" class="tk" text-anchor="end">0.4</text>
<path d="M17.3 456.6l-3 -1.1" stroke="#ababab" stroke-width="0.4"/>
<text x="13.1" y="441.8" class="tk" text-anchor="end">0.6</text>
<path d="M17.3 441.6l-3 -1.1" stroke="#ababab" stroke-width="0.4"/>
<text x="13.1" y="426.7" class="tk" text-anchor="end">0.8</text>
<path d="M17.3 426.5l-3 -1.1" stroke="#ababab" stroke-width="0.4"/>
<text x="13.2" y="411.6" class="tk" text-anchor="end">1</text>
<path d="M17.4 411.4l-3 -1.1" stroke="#ababab" stroke-width="0.4"/>
<text x="13.2" y="396.5" class="tk" text-anchor="end">1.2</text>
<path d="M17.4 396.3l-3 -1.1" stroke="#ababab" stroke-width="0.4"/>
<text x="7.7" y="386.5" class="tk">×10<tspan dy="-1" font-size="2">-9</tspan></text>
<text x="120.5" y="534.2" class="tk" text-anchor="middle">0</text>
<path d="M116.5 527l0.8 1.4" stroke="#ababab" stroke-width="0.4"/>
<text x="136.6" y="530.3" class="tk" text-anchor="middle">50</text>
<path d="M132.6 523.1l0.8 1.4" stroke="#ababab" stroke-width="0.4"/>
<text x="152.7" y="526.4" class="tk" text-anchor="middle">100</text>
<path d="M148.7 519.1l0.8 1.4" stroke="#ababab" stroke-width="0.4"/>
<text x="168.8" y="522.4" class="tk" text-anchor="middle">150</text>
<path d="M164.8 515.2l0.8 1.4" stroke="#ababab" stroke-width="0.4"/>
<text x="184.8" y="518.5" class="tk" text-anchor="middle">200</text>
<path d="M180.8 511.3l0.8 1.4" stroke="#ababab" stroke-width="0.4"/>
<text x="200.9" y="514.6" class="tk" text-anchor="middle">250</text>
<path d="M196.9 507.4l0.8 1.4" stroke="#ababab" stroke-width="0.4"/>
<text x="217" y="510.7" class="tk" text-anchor="middle">300</text>
<path d="M213 503.5l0.8 1.4" stroke="#ababab" stroke-width="0.4"/>
<text x="233.1" y="506.7" class="tk" text-anchor="middle">350</text>
<path d="M229.1 499.5l0.8 1.4" stroke="#ababab" stroke-width="0.4"/>
<text x="249.2" y="502.8" class="tk" text-anchor="middle">400</text>
<path d="M245.2 495.6l0.8 1.4" stroke="#ababab" stroke-width="0.4"/>
<text x="16.2" y="491.3" class="tk" text-anchor="end">10<tspan dy="-1" font-size="2">0</tspan></text>
<text x="61.8" y="513.1" class="tk" text-anchor="end">10<tspan dy="-1" font-size="2">-1</tspan></text>
<text x="113" y="533" class="tk" text-anchor="end">10<tspan dy="-1" font-size="2">-2</tspan></text>
<text x="79.1" y="531.2" class="ax" text-anchor="middle">f (Hz)</text>
<text x="164.3" y="534.5" class="ax" text-anchor="middle">t (s)</text>
<text transform="translate(7.4 441) rotate(-90)" class="ax" text-anchor="middle">Energy</text>
<text x="20.2" y="517" class="pl lm" text-anchor="middle">(e)</text>
<rect x="253.2" y="365.3" width="4.3" height="162.7" fill="url(#par)"/>
<text x="259" y="529" class="tk">0</text>
<text x="259" y="513.9" class="tk">0.1</text>
<text x="259" y="498.7" class="tk">0.2</text>
<text x="259" y="483.6" class="tk">0.3</text>
<text x="259" y="468.5" class="tk">0.4</text>
<text x="259" y="453.3" class="tk">0.5</text>
<text x="259" y="438.2" class="tk">0.6</text>
<text x="259" y="423.1" class="tk">0.7</text>
<text x="259" y="408" class="tk">0.8</text>
<text x="259" y="392.8" class="tk">0.9</text>
<text x="259" y="377.7" class="tk">1</text>
<text x="257.5" y="362.8" class="tk">×10<tspan dy="-1" font-size="2">-9</tspan></text>
</g>
<g id="pf">
<path d="M313.1 488.8L313.5 394M328.2 484.8L328.6 390.9M343.3 480.8L343.6 387.8M358.4 476.8L358.7 384.6M373.5 472.9L373.8 381.5M388.6 468.9L388.8 378.4M403.7 464.9L403.9 375.2M418.8 460.9L418.9 372.1M433.9 456.9L434 369M436.1 457.9L436.2 369.9M438.6 459L438.7 371M441.4 460.2L441.5 372.2M444.7 461.7L444.8 373.5M448.5 463.4L448.6 375.1M453.2 465.4L453.2 377.1M459.1 468.1L459.2 379.6M467.5 471.8L467.5 383.1M481.6 478.1L481.6 389M483.7 479L483.8 389.9M486.1 480L486.1 390.9M488.8 481.2L488.8 392M491.9 482.6L491.9 393.3M495.5 484.2L495.5 394.8M499.9 486.2L499.9 396.7M505.6 488.7L505.6 399M513.6 492.2L513.6 402.4M527 498.2L527 408M433.9 456.9L434 369" fill="none" stroke="#f4f4f4" stroke-width="0.5"/>
<path d="M313.1 488.8L433.9 456.9M313.2 475.8L433.9 444.8M313.2 462.8L433.9 432.8M313.3 449.8L433.9 420.7M313.3 436.8L434 408.7M313.4 423.8L434 396.6M313.4 410.8L434 384.6M313.5 397.8L434 372.5M433.9 456.9L527 498.2M433.9 444.8L527 485.8M433.9 432.8L527 473.5M433.9 420.7L527 461.1M434 408.7L527 448.7M434 396.6L527 436.3M434 384.6L527 424M434 372.5L527 411.6" fill="none" stroke="#efefef" stroke-width="0.5"/>
<path d="M313.5 394L313.1 488.8L409 530L527 498.2" fill="none" stroke="#ababab" stroke-width="0.5"/>
<polygon points="313.1,488.8 433.9,456.9 527,498.2 410,528 409,530" fill="#4324ad"/>
<polygon points="491,482 495.3,476.6 499.5,485" fill="none" stroke="#8f86dc" stroke-width="0.45" stroke-linejoin="round"/>
<polygon points="323.4,493.2 324.5,451 325.6,494.2" fill="#fff" stroke="#a9c4ee" stroke-width="0.5" stroke-linejoin="round"/>
<polygon points="335.8,498.6 337.3,421.8 338.8,499.8" fill="#f3f1ea" stroke="#cdc6da" stroke-width="0.5" stroke-linejoin="round"/>
<polygon points="339.9,500.3 341,469 342.1,501.3" fill="#fff" stroke="#a9c4ee" stroke-width="0.5" stroke-linejoin="round"/>
<polygon points="343.4,501.8 344.5,489 345.6,502.8" fill="#fff" stroke="#b9b3e3" stroke-width="0.5" stroke-linejoin="round"/>
<polygon points="346.9,503.3 348,489 349.1,504.3" fill="#fff" stroke="#b9b3e3" stroke-width="0.5" stroke-linejoin="round"/>
<polygon points="353.3,506.1 355,456.4 356.7,507.5" fill="#fff" stroke="#9fc0ee" stroke-width="0.5" stroke-linejoin="round"/>
<polygon points="352.5,505.7 354.5,500.6 358,494.1 368,496.4 376,505.8 376,515.8" fill="#fff" stroke="#b9b3e3" stroke-width="0.4" stroke-linejoin="round"/>
<polygon points="357.1,507.7 359.6,435.5 362.1,509.9" fill="#f1eee6" stroke="#c9c3dc" stroke-width="0.5" stroke-linejoin="round"/>
<polygon points="359.9,508.9 362.2,438 364.5,510.9" fill="#f1eee6" stroke="#c9c3dc" stroke-width="0.5" stroke-linejoin="round"/>
<polygon points="361.9,509.8 364.2,443.6 366.5,511.7" fill="#f1eee6" stroke="#c9c3dc" stroke-width="0.5" stroke-linejoin="round"/>
<polygon points="363.9,510.6 366.4,430 369.2,512.9" fill="#f1eee6" stroke="#c9c3dc" stroke-width="0.5" stroke-linejoin="round"/>
<polygon points="367,511.9 368.7,471 370.4,513.4" fill="#fff" stroke="#b9b3e3" stroke-width="0.5" stroke-linejoin="round"/>
<polygon points="370.4,513.4 372.7,461.8 375,515.4" fill="#fff" stroke="#22b4e6" stroke-width="0.5" stroke-linejoin="round"/>
<polygon points="374.2,515 376.5,476 378.8,517" fill="#fff" stroke="#b9b3e3" stroke-width="0.5" stroke-linejoin="round"/>
<polygon points="376,515.8 380.9,451 384,466 387.3,452.7 389.8,470 391.6,481.5 395.5,482 398.4,488.5 409,518 409,530" fill="#fff" stroke="#b9b3e3" stroke-width="0.5" stroke-linejoin="round"/>
<polyline points="380.9,452 377.5,480" fill="none" stroke="#7fcf5a" stroke-width="0.9" stroke-linejoin="round" stroke-linecap="round"/>
<polyline points="377.5,480 376,515.8" fill="none" stroke="#2ec4a8" stroke-width="0.6" stroke-linejoin="round" stroke-linecap="round"/>
<polyline points="380.9,451 385,480 392,522.7" fill="none" stroke="#4a35c4" stroke-width="0.8" stroke-linejoin="round" stroke-linecap="round"/>
<polyline points="387.3,452.7 386.5,462" fill="none" stroke="#f2b93b" stroke-width="0.9" stroke-linejoin="round" stroke-linecap="round"/>
<polyline points="387.3,452.7 394,500 408.5,529" fill="none" stroke="#8f86dc" stroke-width="0.6" stroke-linejoin="round" stroke-linecap="round"/>
<polyline points="392,478 398,525.3 408.5,529" fill="none" stroke="#8f86dc" stroke-width="0.5" stroke-linejoin="round" stroke-linecap="round"/>
<polyline points="395.5,482.7 403,527.4" fill="none" stroke="#8f86dc" stroke-width="0.5" stroke-linejoin="round" stroke-linecap="round"/>
<polyline points="394.5,487 396,495" fill="none" stroke="#22b4e6" stroke-width="0.8" stroke-linejoin="round" stroke-linecap="round"/>
<polyline points="359.6,470 370,513.2 408.5,529.5" fill="none" stroke="#8f86dc" stroke-width="0.4" stroke-linejoin="round" stroke-linecap="round"/>
<text x="308.9" y="489" class="tk" text-anchor="end">0</text>
<path d="M313.1 488.8l-3 -1.1" stroke="#ababab" stroke-width="0.4"/>
<text x="309" y="476" class="tk" text-anchor="end">0.5</text>
<path d="M313.2 475.8l-3 -1.1" stroke="#ababab" stroke-width="0.4"/>
<text x="309" y="463" class="tk" text-anchor="end">1</text>
<path d="M313.2 462.8l-3 -1.1" stroke="#ababab" stroke-width="0.4"/>
<text x="309.1" y="450" class="tk" text-anchor="end">1.5</text>
<path d="M313.3 449.8l-3 -1.1" stroke="#ababab" stroke-width="0.4"/>
<text x="309.1" y="437" class="tk" text-anchor="end">2</text>
<path d="M313.3 436.8l-3 -1.1" stroke="#ababab" stroke-width="0.4"/>
<text x="309.2" y="424" class="tk" text-anchor="end">2.5</text>
<path d="M313.4 423.8l-3 -1.1" stroke="#ababab" stroke-width="0.4"/>
<text x="309.2" y="411" class="tk" text-anchor="end">3</text>
<path d="M313.4 410.8l-3 -1.1" stroke="#ababab" stroke-width="0.4"/>
<text x="309.3" y="398" class="tk" text-anchor="end">3.5</text>
<path d="M313.5 397.8l-3 -1.1" stroke="#ababab" stroke-width="0.4"/>
<text x="303.8" y="386.5" class="tk">×10<tspan dy="-1" font-size="2">-11</tspan></text>
<text x="413" y="537.2" class="tk" text-anchor="middle">0</text>
<path d="M409 530l0.8 1.4" stroke="#ababab" stroke-width="0.4"/>
<text x="427.8" y="533.2" class="tk" text-anchor="middle">50</text>
<path d="M423.8 526l0.8 1.4" stroke="#ababab" stroke-width="0.4"/>
<text x="442.5" y="529.2" class="tk" text-anchor="middle">100</text>
<path d="M438.5 522l0.8 1.4" stroke="#ababab" stroke-width="0.4"/>
<text x="457.2" y="525.3" class="tk" text-anchor="middle">150</text>
<path d="M453.2 518.1l0.8 1.4" stroke="#ababab" stroke-width="0.4"/>
<text x="472" y="521.3" class="tk" text-anchor="middle">200</text>
<path d="M468 514.1l0.8 1.4" stroke="#ababab" stroke-width="0.4"/>
<text x="486.8" y="517.3" class="tk" text-anchor="middle">250</text>
<path d="M482.8 510.1l0.8 1.4" stroke="#ababab" stroke-width="0.4"/>
<text x="501.5" y="513.4" class="tk" text-anchor="middle">300</text>
<path d="M497.5 506.1l0.8 1.4" stroke="#ababab" stroke-width="0.4"/>
<text x="516.2" y="509.4" class="tk" text-anchor="middle">350</text>
<path d="M512.2 502.2l0.8 1.4" stroke="#ababab" stroke-width="0.4"/>
<text x="531" y="505.4" class="tk" text-anchor="middle">400</text>
<path d="M527 498.2l0.8 1.4" stroke="#ababab" stroke-width="0.4"/>
<text x="312.1" y="493.3" class="tk" text-anchor="end">10<tspan dy="-1" font-size="2">0</tspan></text>
<text x="356.2" y="515.5" class="tk" text-anchor="end">10<tspan dy="-1" font-size="2">-1</tspan></text>
<text x="405.5" y="536" class="tk" text-anchor="end">10<tspan dy="-1" font-size="2">-2</tspan></text>
<text x="365.1" y="535.7" class="ax" text-anchor="middle">f (Hz)</text>
<text x="449.5" y="539.6" class="ax" text-anchor="middle">t (s)</text>
<text transform="translate(303 447.3) rotate(-90)" class="ax" text-anchor="middle">Energy</text>
<text x="288.3" y="512" class="pl lm" text-anchor="middle">(f)</text>
<rect x="534.8" y="367" width="4.2" height="163.5" fill="url(#par)"/>
<text x="540.5" y="531.5" class="tk">0</text>
<text x="540.5" y="506.2" class="tk">0.5</text>
<text x="540.5" y="480.8" class="tk">1</text>
<text x="540.5" y="455.5" class="tk">1.5</text>
<text x="540.5" y="430.1" class="tk">2</text>
<text x="540.5" y="404.8" class="tk">2.5</text>
<text x="540.5" y="379.4" class="tk">3</text>
<text x="539" y="364.5" class="tk">×10<tspan dy="-1" font-size="2">-11</tspan></text>
</g>
<g id="pg">
<path d="M17.8 681L18.1 577.5M33.8 676.6L34.1 573.8M49.9 672.3L50.1 570M65.9 667.9L66.1 566.2M81.9 663.5L82.1 562.5M98 659.2L98 558.8M114 654.8L114 555M130.1 650.5L130 551.2M146.1 646.1L146 547.5M148.5 647.2L148.4 548.5M151.2 648.4L151.1 549.7M154.2 649.7L154.1 551M157.7 651.2L157.6 552.5M161.8 653.1L161.7 554.3M166.8 655.3L166.7 556.5M173.2 658.1L173.1 559.3M182.1 662.1L182.1 563.2M197.3 668.8L197.2 569.8M199.5 669.9L199.5 570.8M202.1 671L202.1 571.9M205 672.3L204.9 573.1M208.3 673.7L208.2 574.6M212.2 675.5L212.2 576.3M216.9 677.6L216.9 578.3M223 680.3L223 581M231.6 684.1L231.6 584.7M246 690.5L246 591M146.1 646.1L146 547.5" fill="none" stroke="#f4f4f4" stroke-width="0.5"/>
<path d="M17.8 681L146.1 646.1M17.8 670.9L146.1 636.4M17.9 660.7L146.1 626.8M17.9 650.6L146.1 617.1M17.9 640.4L146.1 607.4M17.9 630.3L146.1 597.8M18 620.1L146 588.1M18 610L146 578.5M18 599.9L146 568.8M18.1 589.7L146 559.1M18.1 579.6L146 549.5M146.1 646.1L246 690.5M146.1 636.4L246 680.7M146.1 626.8L246 671M146.1 617.1L246 661.2M146.1 607.4L246 651.5M146.1 597.8L246 641.7M146 588.1L246 632M146 578.5L246 622.2M146 568.8L246 612.5M146 559.1L246 602.7M146 549.5L246 593" fill="none" stroke="#efefef" stroke-width="0.5"/>
<path d="M18.1 577.5L17.8 681L117.4 725L246 690.5" fill="none" stroke="#ababab" stroke-width="0.5"/>
<polygon points="17.8,681 146.1,646.1 245.7,689.3 245.7,690.2 238.6,692.3 227.7,695.5 216.8,698.3 195,703.7 185,705.5 164.4,709 149.5,711.3 134.7,713.3 118.4,714 117.4,725" fill="#4324ad"/>
<polygon points="118,660 119.8,654.7 122,687 124.3,702 128.7,711 134.7,713.3 118.4,714" fill="url(#wg)"/>
<polyline points="237.5,685.4 245.9,685.2 245.9,691.5 239,691.7" fill="none" stroke="#8f86dc" stroke-width="0.4" stroke-linejoin="round" stroke-linecap="round"/>
<polyline points="214.6,676.6 226,680.6 238.6,685.3" fill="none" stroke="#7466d8" stroke-width="0.5" stroke-linejoin="round" stroke-linecap="round" opacity="0.8"/>
<polyline points="220,678 232,682 245,688.5" fill="none" stroke="#7466d8" stroke-width="0.4" stroke-linejoin="round" stroke-linecap="round" opacity="0.7"/>
<polyline points="226,683 245.5,689.5" fill="none" stroke="#6a5ad4" stroke-width="0.4" stroke-linejoin="round" stroke-linecap="round" opacity="0.7"/>
<polygon points="47.3,694 48.2,682.7 49.1,694.8" fill="#fff" stroke="#b9b3e3" stroke-width="0.5" stroke-linejoin="round"/>
<polygon points="58.8,699.1 60.4,605 62,700.5" fill="#f6f3e4" stroke="#e4dbb6" stroke-width="0.5" stroke-linejoin="round"/>
<polygon points="63.6,701.2 64.5,692 65.4,702" fill="#fff" stroke="#b9b3e3" stroke-width="0.5" stroke-linejoin="round"/>
<polygon points="69.4,703.8 72.4,655.5 76.1,706.7" fill="#fff" stroke="#b9b3e3" stroke-width="0.5" stroke-linejoin="round"/>
<polygon points="79.6,708.3 83.6,668 87.6,711.8" fill="#fff" stroke="#b9b3e3" stroke-width="0.5" stroke-linejoin="round"/>
<polygon points="83.9,710.2 87.6,633.6 92.4,714" fill="#fff" stroke="#b9b3e3" stroke-width="0.5" stroke-linejoin="round"/>
<polygon points="89.6,712.7 93.6,637.3 99.3,717" fill="#fff" stroke="#b9b3e3" stroke-width="0.5" stroke-linejoin="round"/>
<polygon points="96.5,715.8 102.7,621.8 119.3,635 118.4,714 117.4,725" fill="#fff" stroke="#b9b3e3" stroke-width="0.5" stroke-linejoin="round"/>
<polyline points="87.6,633.6 100,717.3 117,724.5" fill="none" stroke="#8f86dc" stroke-width="0.5" stroke-linejoin="round" stroke-linecap="round"/>
<polyline points="93.6,637.3 105,719.5 117,724.5" fill="none" stroke="#8f86dc" stroke-width="0.5" stroke-linejoin="round" stroke-linecap="round"/>
<polyline points="72.4,655.5 85,710.7 117,724.5" fill="none" stroke="#8f86dc" stroke-width="0.4" stroke-linejoin="round" stroke-linecap="round"/>
<polyline points="88.2,671.8 92.7,673.6 101.8,666.4" fill="none" stroke="#2ec4a8" stroke-width="0.9" stroke-linejoin="round" stroke-linecap="round"/>
<polyline points="102.7,633 101,665" fill="none" stroke="#22b4e6" stroke-width="0.7" stroke-linejoin="round" stroke-linecap="round"/>
<polyline points="102.7,621.8 117.3,721" fill="none" stroke="#4a35c4" stroke-width="1.5" stroke-linejoin="round" stroke-linecap="round"/>
<polyline points="102.7,621.8 99.5,670 96.5,715.8" fill="none" stroke="#8f86dc" stroke-width="0.6" stroke-linejoin="round" stroke-linecap="round"/>
<polyline points="119,635.5 112.7,664.5" fill="none" stroke="#f3d23a" stroke-width="1.3" stroke-linejoin="round" stroke-linecap="round"/>
<polyline points="119,635.5 119.2,655" fill="none" stroke="#f3d23a" stroke-width="0.9" stroke-linejoin="round" stroke-linecap="round"/>
<polyline points="119.2,655 119,685" fill="none" stroke="#7fcf5a" stroke-width="0.9" stroke-linejoin="round" stroke-linecap="round"/>
<polyline points="119,685 118.5,712" fill="none" stroke="#22b4e6" stroke-width="0.8" stroke-linejoin="round" stroke-linecap="round"/>
<polyline points="112.7,664.5 117,724" fill="none" stroke="#8f86dc" stroke-width="0.5" stroke-linejoin="round" stroke-linecap="round"/>
<polyline points="72.4,655.5 72,675" fill="none" stroke="#22b4e6" stroke-width="0.7" stroke-linejoin="round" stroke-linecap="round"/>
<text x="13.6" y="681.2" class="tk" text-anchor="end">0</text>
<path d="M17.8 681l-3 -1.1" stroke="#ababab" stroke-width="0.4"/>
<text x="13.6" y="671.1" class="tk" text-anchor="end">0.5</text>
<path d="M17.8 670.9l-3 -1.1" stroke="#ababab" stroke-width="0.4"/>
<text x="13.7" y="660.9" class="tk" text-anchor="end">1</text>
<path d="M17.9 660.7l-3 -1.1" stroke="#ababab" stroke-width="0.4"/>
<text x="13.7" y="650.8" class="tk" text-anchor="end">1.5</text>
<path d="M17.9 650.6l-3 -1.1" stroke="#ababab" stroke-width="0.4"/>
<text x="13.7" y="640.6" class="tk" text-anchor="end">2</text>
<path d="M17.9 640.4l-3 -1.1" stroke="#ababab" stroke-width="0.4"/>
<text x="13.7" y="630.5" class="tk" text-anchor="end">2.5</text>
<path d="M17.9 630.3l-3 -1.1" stroke="#ababab" stroke-width="0.4"/>
<text x="13.8" y="620.3" class="tk" text-anchor="end">3</text>
<path d="M18 620.1l-3 -1.1" stroke="#ababab" stroke-width="0.4"/>
<text x="13.8" y="610.2" class="tk" text-anchor="end">3.5</text>
<path d="M18 610l-3 -1.1" stroke="#ababab" stroke-width="0.4"/>
<text x="13.8" y="600.1" class="tk" text-anchor="end">4</text>
<path d="M18 599.9l-3 -1.1" stroke="#ababab" stroke-width="0.4"/>
<text x="13.9" y="589.9" class="tk" text-anchor="end">4.5</text>
<path d="M18.1 589.7l-3 -1.1" stroke="#ababab" stroke-width="0.4"/>
<text x="13.9" y="579.8" class="tk" text-anchor="end">5</text>
<path d="M18.1 579.6l-3 -1.1" stroke="#ababab" stroke-width="0.4"/>
<text x="8.4" y="570" class="tk">×10<tspan dy="-1" font-size="2">-9</tspan></text>
<text x="121.4" y="732.2" class="tk" text-anchor="middle">0</text>
<path d="M117.4 725l0.8 1.4" stroke="#ababab" stroke-width="0.4"/>
<text x="137.5" y="727.9" class="tk" text-anchor="middle">50</text>
<path d="M133.5 720.7l0.8 1.4" stroke="#ababab" stroke-width="0.4"/>
<text x="153.6" y="723.6" class="tk" text-anchor="middle">100</text>
<path d="M149.6 716.4l0.8 1.4" stroke="#ababab" stroke-width="0.4"/>
<text x="169.6" y="719.3" class="tk" text-anchor="middle">150</text>
<path d="M165.6 712.1l0.8 1.4" stroke="#ababab" stroke-width="0.4"/>
<text x="185.7" y="715" class="tk" text-anchor="middle">200</text>
<path d="M181.7 707.8l0.8 1.4" stroke="#ababab" stroke-width="0.4"/>
<text x="201.8" y="710.6" class="tk" text-anchor="middle">250</text>
<path d="M197.8 703.4l0.8 1.4" stroke="#ababab" stroke-width="0.4"/>
<text x="217.8" y="706.3" class="tk" text-anchor="middle">300</text>
<path d="M213.8 699.1l0.8 1.4" stroke="#ababab" stroke-width="0.4"/>
<text x="233.9" y="702" class="tk" text-anchor="middle">350</text>
<path d="M229.9 694.8l0.8 1.4" stroke="#ababab" stroke-width="0.4"/>
<text x="250" y="697.7" class="tk" text-anchor="middle">400</text>
<path d="M246 690.5l0.8 1.4" stroke="#ababab" stroke-width="0.4"/>
<text x="16.8" y="685.5" class="tk" text-anchor="end">10<tspan dy="-1" font-size="2">0</tspan></text>
<text x="62.6" y="709" class="tk" text-anchor="end">10<tspan dy="-1" font-size="2">-1</tspan></text>
<text x="113.9" y="731" class="tk" text-anchor="end">10<tspan dy="-1" font-size="2">-2</tspan></text>
<text x="74.7" y="731.8" class="ax" text-anchor="middle">f (Hz)</text>
<text x="164.3" y="731.8" class="ax" text-anchor="middle">t (s)</text>
<text transform="translate(6.5 631.8) rotate(-90)" class="ax" text-anchor="middle">Energy</text>
<text x="26.1" y="708.8" class="pl ls" text-anchor="middle">(g)</text>
<rect x="253.6" y="545.8" width="4.3" height="180.9" fill="url(#par)"/>
<text x="259.4" y="727.7" class="tk">0</text>
<text x="259.4" y="709" class="tk">0.5</text>
<text x="259.4" y="690.3" class="tk">1</text>
<text x="259.4" y="671.6" class="tk">1.5</text>
<text x="259.4" y="652.9" class="tk">2</text>
<text x="259.4" y="634.2" class="tk">2.5</text>
<text x="259.4" y="615.5" class="tk">3</text>
<text x="259.4" y="596.8" class="tk">3.5</text>
<text x="259.4" y="578.2" class="tk">4</text>
<text x="259.4" y="559.5" class="tk">4.5</text>
<text x="257.9" y="543.3" class="tk">×10<tspan dy="-1" font-size="2">-9</tspan></text>
</g>
<g id="ph">
<path d="M300.4 680.5L300.5 577.5M316.5 676.2L316.4 573.6M332.5 671.9L332.2 569.6M348.6 667.6L348.1 565.7M364.7 663.2L364 561.8M380.8 658.9L379.9 557.8M396.9 654.6L395.8 553.9M412.9 650.3L411.6 549.9M429 646L427.5 546M431.4 647.1L429.9 547.1M434 648.3L432.6 548.3M436.9 649.7L435.6 549.7M440.4 651.3L439 551.3M444.4 653.2L443.1 553.2M449.3 655.4L448.1 555.5M455.6 658.4L454.5 558.5M464.3 662.4L463.4 562.6M479.2 669.4L478.5 569.6M481.4 670.4L480.7 570.6M483.9 671.6L483.3 571.8M486.8 672.9L486.1 573.1M490 674.4L489.4 574.6M493.8 676.2L493.3 576.4M498.5 678.3L498.1 578.6M504.5 681.1L504.1 581.4M512.9 685L512.6 585.4M527 691.6L527 592M429 646L427.5 546" fill="none" stroke="#f4f4f4" stroke-width="0.5"/>
<path d="M300.4 680.5L429 646M300.4 670.4L428.9 636.2M300.4 660.3L428.7 626.4M300.4 650.2L428.6 616.6M300.4 640.1L428.4 606.8M300.4 630L428.3 597M300.5 619.9L428.1 587.2M300.5 609.8L428 577.4M300.5 599.7L427.8 567.6M300.5 589.7L427.7 557.8M300.5 579.6L427.5 548M429 646L527 691.6M428.9 636.2L527 681.8M428.7 626.4L527 672.1M428.6 616.6L527 662.3M428.4 606.8L527 652.6M428.3 597L527 642.8M428.1 587.2L527 633M428 577.4L527 623.3M427.8 567.6L527 613.5M427.7 557.8L527 603.8M427.5 548L527 594" fill="none" stroke="#efefef" stroke-width="0.5"/>
<path d="M300.5 577.5L300.4 680.5L400.5 726L527 691.6" fill="none" stroke="#ababab" stroke-width="0.5"/>
<polygon points="300.4,680.5 429,646 527,690.5 527,692 401,720.5 400.5,726" fill="#4324ad"/>
<polygon points="505.4,679 512.4,663 524.5,688.4 514,684" fill="none" stroke="#8f86dc" stroke-width="0.5" stroke-linejoin="round"/>
<polyline points="512.4,663 514,684" fill="none" stroke="#8f86dc" stroke-width="0.4" stroke-linejoin="round" stroke-linecap="round"/>
<polyline points="505.4,679 514,684 524.5,688.4" fill="none" stroke="#8f86dc" stroke-width="0.4" stroke-linejoin="round" stroke-linecap="round"/>
<polyline points="356.5,681 389,695" fill="none" stroke="#fff" stroke-width="0.8" stroke-linejoin="round" stroke-linecap="round" opacity="0.8"/>
<polyline points="389,695 400,699" fill="none" stroke="#fff" stroke-width="0.5" stroke-linejoin="round" stroke-linecap="round" opacity="0.6"/>
<polyline points="340,676 356,681" fill="none" stroke="#fff" stroke-width="0.4" stroke-linejoin="round" stroke-linecap="round" opacity="0.5"/>
<polyline points="405,697 428,706" fill="none" stroke="#fff" stroke-width="0.6" stroke-linejoin="round" stroke-linecap="round" opacity="0.6"/>
<polyline points="410,695 430,703" fill="none" stroke="#fff" stroke-width="0.4" stroke-linejoin="round" stroke-linecap="round" opacity="0.5"/>
<polygon points="335.9,696.6 337,653.6 338.1,697.7" fill="#fff" stroke="#a9c4ee" stroke-width="0.5" stroke-linejoin="round"/>
<polygon points="340.5,675.1 341.4,658 342.3,675.9" fill="#fff" stroke="#a9c4ee" stroke-width="0.5" stroke-linejoin="round"/>
<polygon points="358.6,665.7 359.5,616.3 360.4,666.5" fill="#fff" stroke="#a9c4ee" stroke-width="0.5" stroke-linejoin="round"/>
<polygon points="361.1,666.9 362.4,598.5 363.7,668.1" fill="#eeebe6" stroke="#cfcacc" stroke-width="0.5" stroke-linejoin="round"/>
<polygon points="365.1,668.8 366.1,631.2 367.1,669.7" fill="#fff" stroke="#7fa2ea" stroke-width="0.6" stroke-linejoin="round"/>
<polygon points="372.5,672.4 374,575 375.5,673.7" fill="#eeebe6" stroke="#cfcacc" stroke-width="0.5" stroke-linejoin="round"/>
<polygon points="382.2,677 384,657.2 385.8,678.7" fill="#fff" stroke="#b9b3e3" stroke-width="0.4" stroke-linejoin="round"/>
<polygon points="383.6,677.7 385.4,645.5 387.3,679.4" fill="#fff" stroke="#b9b3e3" stroke-width="0.4" stroke-linejoin="round"/>
<polygon points="385.1,678.4 386.9,652.5 388.7,680" fill="#fff" stroke="#b9b3e3" stroke-width="0.4" stroke-linejoin="round"/>
<polygon points="386.5,679.1 388.3,640.5 390.2,680.7" fill="#fff" stroke="#b9b3e3" stroke-width="0.4" stroke-linejoin="round"/>
<polygon points="388,679.8 389.8,655.9 391.6,681.4" fill="#fff" stroke="#b9b3e3" stroke-width="0.4" stroke-linejoin="round"/>
<polygon points="389.4,680.5 391.2,649 393.1,682.1" fill="#fff" stroke="#b9b3e3" stroke-width="0.4" stroke-linejoin="round"/>
<polygon points="390.9,681.1 392.7,659.1 394.5,682.8" fill="#fff" stroke="#b9b3e3" stroke-width="0.4" stroke-linejoin="round"/>
<polygon points="392.3,681.8 394.1,644.1 396,683.5" fill="#fff" stroke="#b9b3e3" stroke-width="0.4" stroke-linejoin="round"/>
<polygon points="393.8,682.5 395.6,650.7 397.4,684.2" fill="#fff" stroke="#b9b3e3" stroke-width="0.4" stroke-linejoin="round"/>
<polygon points="395.2,683.2 397,636.5 398.9,684.9" fill="#fff" stroke="#b9b3e3" stroke-width="0.4" stroke-linejoin="round"/>
<polygon points="396.7,683.9 398.5,656.8 400.3,685.6" fill="#fff" stroke="#b9b3e3" stroke-width="0.4" stroke-linejoin="round"/>
<polygon points="398.1,684.6 399.9,650.6 401.8,686.3" fill="#fff" stroke="#b9b3e3" stroke-width="0.4" stroke-linejoin="round"/>
<polygon points="399.6,685.3 401.4,661.7 403.2,687" fill="#fff" stroke="#b9b3e3" stroke-width="0.4" stroke-linejoin="round"/>
<polygon points="401,686 402.8,651.6 404.7,687.7" fill="#fff" stroke="#b9b3e3" stroke-width="0.4" stroke-linejoin="round"/>
<polygon points="402.5,686.7 404.3,664.8 406.1,688.4" fill="#fff" stroke="#b9b3e3" stroke-width="0.4" stroke-linejoin="round"/>
<polygon points="403.9,687.4 405.7,660.8 407.6,689.1" fill="#fff" stroke="#b9b3e3" stroke-width="0.4" stroke-linejoin="round"/>
<polygon points="405.4,688.1 407.2,674.1 409,689.8" fill="#fff" stroke="#b9b3e3" stroke-width="0.4" stroke-linejoin="round"/>
<polygon points="406.8,688.8 408.6,672.7 410.5,690.4" fill="#fff" stroke="#b9b3e3" stroke-width="0.4" stroke-linejoin="round"/>
<polygon points="408.3,689.5 410.1,679.7 411.9,691.1" fill="#fff" stroke="#b9b3e3" stroke-width="0.4" stroke-linejoin="round"/>
<polygon points="409.7,690.2 411.5,675.6 413.4,691.8" fill="#fff" stroke="#b9b3e3" stroke-width="0.4" stroke-linejoin="round"/>
<polygon points="411.2,690.9 413,681.2 414.8,692.5" fill="#fff" stroke="#b9b3e3" stroke-width="0.4" stroke-linejoin="round"/>
<polygon points="412.6,691.5 414.4,680.4 416.3,693.2" fill="#fff" stroke="#b9b3e3" stroke-width="0.4" stroke-linejoin="round"/>
<polygon points="414.1,692.2 415.9,687.7 417.7,693.9" fill="#fff" stroke="#b9b3e3" stroke-width="0.4" stroke-linejoin="round"/>
<polygon points="415.5,692.9 417.3,688.6 419.2,694.6" fill="#fff" stroke="#b9b3e3" stroke-width="0.4" stroke-linejoin="round"/>
<polygon points="417,693.6 418.8,691.6 420.6,695.3" fill="#fff" stroke="#b9b3e3" stroke-width="0.4" stroke-linejoin="round"/>
<polygon points="418.4,694.3 420.2,691.8 422.1,696" fill="#fff" stroke="#b9b3e3" stroke-width="0.4" stroke-linejoin="round"/>
<polygon points="419.9,695 421.7,693.8 423.5,696.7" fill="#fff" stroke="#b9b3e3" stroke-width="0.4" stroke-linejoin="round"/>
<polygon points="421.3,695.7 423.1,694.3 425,697.4" fill="#fff" stroke="#b9b3e3" stroke-width="0.4" stroke-linejoin="round"/>
<polygon points="422.8,696.4 424.6,696.3 426.4,698.1" fill="#fff" stroke="#b9b3e3" stroke-width="0.4" stroke-linejoin="round"/>
<polygon points="378.1,675 379.5,637.8 380.9,676.3" fill="#fff" stroke="#a9c4ee" stroke-width="0.5" stroke-linejoin="round"/>
<polygon points="381.1,676.5 382.5,632.7 383.9,677.7" fill="#fff" stroke="#7fa2ea" stroke-width="0.5" stroke-linejoin="round"/>
<polygon points="386,678.8 387.4,630.4 388.8,680.1" fill="#fff" stroke="#a9c4ee" stroke-width="0.5" stroke-linejoin="round"/>
<polygon points="391,681.2 392.4,631.9 393.8,682.5" fill="#fff" stroke="#a9c4ee" stroke-width="0.5" stroke-linejoin="round"/>
<polygon points="394.9,683.1 396.3,622.3 397.7,684.3" fill="#fff" stroke="#a9c4ee" stroke-width="0.5" stroke-linejoin="round"/>
<polygon points="398.1,684.6 399.5,631.9 400.9,685.9" fill="#fff" stroke="#9fd6ee" stroke-width="0.5" stroke-linejoin="round"/>
<polygon points="400.8,685.9 402.2,631.9 403.6,687.2" fill="#fff" stroke="#9fd6ee" stroke-width="0.5" stroke-linejoin="round"/>
<polygon points="402.6,686.8 404,644.5 405.4,688" fill="#fff" stroke="#b9b3e3" stroke-width="0.5" stroke-linejoin="round"/>
<polygon points="404.8,687.8 406.2,656.4 407.6,689.1" fill="#fff" stroke="#b9b3e3" stroke-width="0.5" stroke-linejoin="round"/>
<polygon points="407.8,689.2 409.2,665.3 410.6,690.5" fill="#fff" stroke="#b9b3e3" stroke-width="0.5" stroke-linejoin="round"/>
<polygon points="410.7,690.6 412.1,669.8 413.5,691.9" fill="#fff" stroke="#b9b3e3" stroke-width="0.5" stroke-linejoin="round"/>
<polygon points="413,691.7 414.4,677.2 415.8,693" fill="#fff" stroke="#b9b3e3" stroke-width="0.5" stroke-linejoin="round"/>
<polygon points="415.2,692.8 416.6,684.6 418,694" fill="#fff" stroke="#b9b3e3" stroke-width="0.5" stroke-linejoin="round"/>
<polygon points="418.9,694.5 420.3,690.5 421.7,695.8" fill="#fff" stroke="#b9b3e3" stroke-width="0.5" stroke-linejoin="round"/>
<polygon points="347.8,702 349.5,682 352.4,704.1" fill="#fff" stroke="#b9b3e3" stroke-width="0.5" stroke-linejoin="round"/>
<polygon points="358,706.7 361,690.5 362.8,699 364.6,691.3 367.2,701 369.8,695 372.4,703.5 375,695 380.5,707 386.9,696.5 393.5,713 400.3,702.4 400.7,726" fill="#fff" stroke="#b9b3e3" stroke-width="0.5" stroke-linejoin="round"/>
<polyline points="361,690.5 372,713" fill="none" stroke="#4a35c4" stroke-width="0.7" stroke-linejoin="round" stroke-linecap="round"/>
<polyline points="364.6,691.3 378,715.8" fill="none" stroke="#4a35c4" stroke-width="0.7" stroke-linejoin="round" stroke-linecap="round"/>
<polyline points="369.8,695 384,718.5" fill="none" stroke="#4a35c4" stroke-width="0.7" stroke-linejoin="round" stroke-linecap="round"/>
<polyline points="375,695 384.7,710 391,721.7" fill="none" stroke="#4a35c4" stroke-width="0.9" stroke-linejoin="round" stroke-linecap="round"/>
<polyline points="386.9,696.5 399.6,724" fill="none" stroke="#4a35c4" stroke-width="1.3" stroke-linejoin="round" stroke-linecap="round"/>
<polyline points="375,695 386.9,696.5 400.3,702.4" fill="none" stroke="#4a35c4" stroke-width="0.7" stroke-linejoin="round" stroke-linecap="round"/>
<polyline points="386.9,697.2 383.9,703.9" fill="none" stroke="#22b4e6" stroke-width="1.0" stroke-linejoin="round" stroke-linecap="round"/>
<polyline points="400.3,702.8 395.8,708.3" fill="none" stroke="#22b4e6" stroke-width="1.0" stroke-linejoin="round" stroke-linecap="round"/>
<polyline points="358,706.7 400.5,726" fill="none" stroke="#4a35c4" stroke-width="0.8" stroke-linejoin="round" stroke-linecap="round"/>
<text x="296.2" y="680.7" class="tk" text-anchor="end">0</text>
<path d="M300.4 680.5l-3 -1.1" stroke="#ababab" stroke-width="0.4"/>
<text x="296.2" y="670.6" class="tk" text-anchor="end">0.5</text>
<path d="M300.4 670.4l-3 -1.1" stroke="#ababab" stroke-width="0.4"/>
<text x="296.2" y="660.5" class="tk" text-anchor="end">1</text>
<path d="M300.4 660.3l-3 -1.1" stroke="#ababab" stroke-width="0.4"/>
<text x="296.2" y="650.4" class="tk" text-anchor="end">1.5</text>
<path d="M300.4 650.2l-3 -1.1" stroke="#ababab" stroke-width="0.4"/>
<text x="296.2" y="640.3" class="tk" text-anchor="end">2</text>
<path d="M300.4 640.1l-3 -1.1" stroke="#ababab" stroke-width="0.4"/>
<text x="296.2" y="630.2" class="tk" text-anchor="end">2.5</text>
<path d="M300.4 630l-3 -1.1" stroke="#ababab" stroke-width="0.4"/>
<text x="296.3" y="620.1" class="tk" text-anchor="end">3</text>
<path d="M300.5 619.9l-3 -1.1" stroke="#ababab" stroke-width="0.4"/>
<text x="296.3" y="610" class="tk" text-anchor="end">3.5</text>
<path d="M300.5 609.8l-3 -1.1" stroke="#ababab" stroke-width="0.4"/>
<text x="296.3" y="599.9" class="tk" text-anchor="end">4</text>
<path d="M300.5 599.7l-3 -1.1" stroke="#ababab" stroke-width="0.4"/>
<text x="296.3" y="589.9" class="tk" text-anchor="end">4.5</text>
<path d="M300.5 589.7l-3 -1.1" stroke="#ababab" stroke-width="0.4"/>
<text x="296.3" y="579.8" class="tk" text-anchor="end">5</text>
<path d="M300.5 579.6l-3 -1.1" stroke="#ababab" stroke-width="0.4"/>
<text x="290.8" y="570" class="tk">×10<tspan dy="-1" font-size="2">-11</tspan></text>
<text x="404.5" y="733.2" class="tk" text-anchor="middle">0</text>
<path d="M400.5 726l0.8 1.4" stroke="#ababab" stroke-width="0.4"/>
<text x="420.3" y="728.9" class="tk" text-anchor="middle">50</text>
<path d="M416.3 721.7l0.8 1.4" stroke="#ababab" stroke-width="0.4"/>
<text x="436.1" y="724.6" class="tk" text-anchor="middle">100</text>
<path d="M432.1 717.4l0.8 1.4" stroke="#ababab" stroke-width="0.4"/>
<text x="451.9" y="720.3" class="tk" text-anchor="middle">150</text>
<path d="M447.9 713.1l0.8 1.4" stroke="#ababab" stroke-width="0.4"/>
<text x="467.8" y="716" class="tk" text-anchor="middle">200</text>
<path d="M463.8 708.8l0.8 1.4" stroke="#ababab" stroke-width="0.4"/>
<text x="483.6" y="711.7" class="tk" text-anchor="middle">250</text>
<path d="M479.6 704.5l0.8 1.4" stroke="#ababab" stroke-width="0.4"/>
<text x="499.4" y="707.4" class="tk" text-anchor="middle">300</text>
<path d="M495.4 700.2l0.8 1.4" stroke="#ababab" stroke-width="0.4"/>
<text x="515.2" y="703.1" class="tk" text-anchor="middle">350</text>
<path d="M511.2 695.9l0.8 1.4" stroke="#ababab" stroke-width="0.4"/>
<text x="531" y="698.8" class="tk" text-anchor="middle">400</text>
<path d="M527 691.6l0.8 1.4" stroke="#ababab" stroke-width="0.4"/>
<text x="299.4" y="685" class="tk" text-anchor="end">10<tspan dy="-1" font-size="2">0</tspan></text>
<text x="345.4" y="709.2" class="tk" text-anchor="end">10<tspan dy="-1" font-size="2">-1</tspan></text>
<text x="397" y="732" class="tk" text-anchor="end">10<tspan dy="-1" font-size="2">-2</tspan></text>
<text x="357" y="729" class="ax" text-anchor="middle">f (Hz)</text>
<text x="445.6" y="734" class="ax" text-anchor="middle">t (s)</text>
<text transform="translate(288.4 628.5) rotate(-90)" class="ax" text-anchor="middle">Energy</text>
<text x="288.5" y="709.5" class="pl lb" text-anchor="middle">(h)</text>
<rect x="535" y="544.7" width="4.2" height="182" fill="url(#par)"/>
<text x="540.7" y="727.7" class="tk">0</text>
<text x="540.7" y="708.9" class="tk">0.5</text>
<text x="540.7" y="690.1" class="tk">1</text>
<text x="540.7" y="671.3" class="tk">1.5</text>
<text x="540.7" y="652.5" class="tk">2</text>
<text x="540.7" y="633.7" class="tk">2.5</text>
<text x="540.7" y="614.9" class="tk">3</text>
<text x="540.7" y="596.1" class="tk">3.5</text>
<text x="540.7" y="577.2" class="tk">4</text>
<text x="540.7" y="558.4" class="tk">4.5</text>
<text x="539.2" y="542.2" class="tk">×10<tspan dy="-1" font-size="2">-11</tspan></text>
</g>
</svg>
</body>
</html>
